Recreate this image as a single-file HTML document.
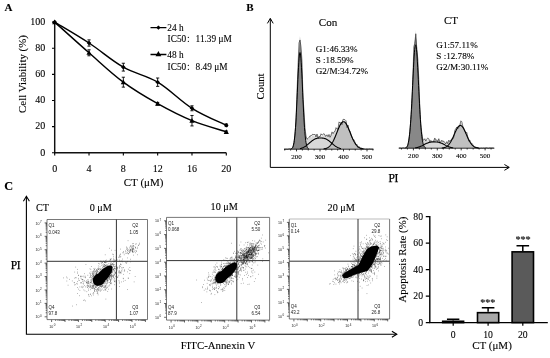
<!DOCTYPE html>
<html><head><meta charset="utf-8"><title>Figure</title>
<style>html,body{margin:0;padding:0;background:#fff;}svg{display:block;}</style>
</head><body>
<svg width="550" height="358" viewBox="0 0 550 358">
<rect width="550" height="358" fill="#fff"/>
<text x="4.6" y="10.8" style="font-family:'Liberation Serif',serif;stroke:#000;stroke-width:0.1px;font-weight:bold;font-size:11px">A</text>
<path d="M54.7 21.5V152.7H226.3" fill="none" stroke="#111" stroke-width="1.45"/>
<path d="M52 152.7H54.7M52 126.58H54.7M52 100.46H54.7M52 74.34H54.7M52 48.22H54.7M52 22.1H54.7M54.7 152.7V155.6M89.02 152.7V155.6M123.34 152.7V155.6M157.66 152.7V155.6M191.98 152.7V155.6M226.3 152.7V155.6" stroke="#000" stroke-width="1.1"/>
<text x="45.3" y="155.6" text-anchor="end" style="font-family:'Liberation Serif',serif;stroke:#000;stroke-width:0.1px;font-size:10px">0</text>
<text x="45.3" y="129.48" text-anchor="end" style="font-family:'Liberation Serif',serif;stroke:#000;stroke-width:0.1px;font-size:10px">20</text>
<text x="45.3" y="103.36" text-anchor="end" style="font-family:'Liberation Serif',serif;stroke:#000;stroke-width:0.1px;font-size:10px">40</text>
<text x="45.3" y="77.24" text-anchor="end" style="font-family:'Liberation Serif',serif;stroke:#000;stroke-width:0.1px;font-size:10px">60</text>
<text x="45.3" y="51.12" text-anchor="end" style="font-family:'Liberation Serif',serif;stroke:#000;stroke-width:0.1px;font-size:10px">80</text>
<text x="45.3" y="25" text-anchor="end" style="font-family:'Liberation Serif',serif;stroke:#000;stroke-width:0.1px;font-size:10px">100</text>
<text x="54.7" y="172" text-anchor="middle" style="font-family:'Liberation Serif',serif;stroke:#000;stroke-width:0.1px;font-size:10px">0</text>
<text x="89.02" y="172" text-anchor="middle" style="font-family:'Liberation Serif',serif;stroke:#000;stroke-width:0.1px;font-size:10px">4</text>
<text x="123.34" y="172" text-anchor="middle" style="font-family:'Liberation Serif',serif;stroke:#000;stroke-width:0.1px;font-size:10px">8</text>
<text x="157.66" y="172" text-anchor="middle" style="font-family:'Liberation Serif',serif;stroke:#000;stroke-width:0.1px;font-size:10px">12</text>
<text x="191.98" y="172" text-anchor="middle" style="font-family:'Liberation Serif',serif;stroke:#000;stroke-width:0.1px;font-size:10px">16</text>
<text x="226.3" y="172" text-anchor="middle" style="font-family:'Liberation Serif',serif;stroke:#000;stroke-width:0.1px;font-size:10px">20</text>
<text x="143.6" y="185.9" text-anchor="middle" style="font-family:'Liberation Serif',serif;stroke:#000;stroke-width:0.1px;font-size:11px">CT (μM)</text>
<text transform="translate(26.1 74) rotate(-90)" text-anchor="middle" style="font-family:'Liberation Serif',serif;stroke:#000;stroke-width:0.1px;font-size:10.9px">Cell Viability (%)</text>
<path d="M54.7 22.1C60.88 25.86 76.66 34.89 89.02 43C101.38 51.11 110.98 60.1 123.34 67.16C135.7 74.21 145.3 74.77 157.66 82.18C170.02 89.58 179.62 100.54 191.98 108.3C204.34 116.05 220.12 122.22 226.3 125.27" fill="none" stroke="#000" stroke-width="1.45"/>
<path d="M54.7 22.1C60.88 27.62 76.66 41.98 89.02 52.79C101.38 63.6 110.98 73.01 123.34 82.18C135.7 91.34 145.3 96.79 157.66 103.72C170.02 110.66 179.62 115.65 191.98 120.7C204.34 125.76 220.12 129.81 226.3 131.8" fill="none" stroke="#000" stroke-width="1.45"/>
<path d="M89.02 39.86V46.13M87.42 39.86H90.62M87.42 46.13H90.62M123.34 63.24V71.07M121.74 63.24H124.94M121.74 71.07H124.94M157.66 78V86.36M156.06 78H159.26M156.06 86.36H159.26M191.98 105.81V110.78M190.38 105.81H193.58M190.38 110.78H193.58M226.3 123.97V126.58M224.7 123.97H227.9M224.7 126.58H227.9M89.02 49.79V55.79M87.42 49.79H90.62M87.42 55.79H90.62M123.34 77.21V87.14M121.74 77.21H124.94M121.74 87.14H124.94M157.66 102.42V105.03M156.06 102.42H159.26M156.06 105.03H159.26M191.98 115.48V125.93M190.38 115.48H193.58M190.38 125.93H193.58M226.3 131.02V132.59M224.7 131.02H227.9M224.7 132.59H227.9" stroke="#000" stroke-width="0.9" fill="none"/>
<path d="M54.7 19.8L57 22.1L54.7 24.4L52.4 22.1ZM89.02 40.7L91.32 43L89.02 45.3L86.72 43ZM123.34 64.86L125.64 67.16L123.34 69.46L121.04 67.16ZM157.66 79.88L159.96 82.18L157.66 84.48L155.36 82.18ZM191.98 106L194.28 108.3L191.98 110.6L189.68 108.3ZM226.3 122.97L228.6 125.27L226.3 127.57L224 125.27Z"/>
<path d="M54.7 19.5L57.3 24.18L52.1 24.18ZM89.02 50.19L91.62 54.87L86.42 54.87ZM123.34 79.58L125.94 84.26L120.74 84.26ZM157.66 101.12L160.26 105.8L155.06 105.8ZM191.98 118.1L194.58 122.78L189.38 122.78ZM226.3 129.2L228.9 133.88L223.7 133.88Z"/>
<path d="M150.5 27.6H166.4M150.5 54.5H166.4" stroke="#000" stroke-width="1.3"/>
<path d="M158.4 25.4L160.6 27.6L158.4 29.8L156.2 27.6ZM158.4 51.1L161.3 56.32L155.5 56.32Z"/>
<text x="167.3" y="30.9" style="font-family:'Liberation Serif',serif;stroke:#000;stroke-width:0.1px;font-size:9.3px">24 h</text>
<text x="167.3" y="58.4" style="font-family:'Liberation Serif',serif;stroke:#000;stroke-width:0.1px;font-size:9.3px">48 h</text>
<text x="167.6" y="42.4" style="font-family:'Liberation Serif',serif;stroke:#000;stroke-width:0.1px;font-size:9.3px">IC50<tspan style="font-family:'Noto Serif CJK SC',serif">：</tspan><tspan x="195.6">11.39 μM</tspan></text>
<text x="167.6" y="69.8" style="font-family:'Liberation Serif',serif;stroke:#000;stroke-width:0.1px;font-size:9.3px">IC50<tspan style="font-family:'Noto Serif CJK SC',serif">：</tspan><tspan x="195.6">8.49 μM</tspan></text>
<text x="246.3" y="10.6" style="font-family:'Liberation Serif',serif;stroke:#000;stroke-width:0.1px;font-weight:bold;font-size:11px">B</text>
<path d="M270.3 18.6V167.4H509" fill="none" stroke="#000" stroke-width="1"/>
<path d="M267.4 23.4L270.3 18.4L273.2 23.4M504.4 164.5L509.3 167.4L504.4 170.3" fill="none" stroke="#000" stroke-width="1"/>
<text transform="translate(263.8 86.5) rotate(-90)" text-anchor="middle" style="font-family:'Liberation Serif',serif;stroke:#000;stroke-width:0.1px;font-size:10.6px">Count</text>
<text x="393.2" y="181.7" text-anchor="middle" style="font-family:'Liberation Serif',serif;stroke:#000;stroke-width:0.1px;font-size:11.5px;letter-spacing:-0.4px;stroke:#000;stroke-width:0.25px">PI</text>
<path d="M284 149.2L284 149.2L284.5 149.14L285 149.2L285.5 149.11L286 149.09L286.5 149.2L287 149.2L287.5 148.98L288 149.2L288.5 149.2L289 148.89L289.5 149.17L290 148.95L290.5 149.12L291 148.96L291.5 149.09L292 148.56L292.5 147.31L293 147.17L293.5 145.28L294 143.18L294.5 141.44L295 134.54L295.5 128.37L296 121.02L296.5 112.13L297 94.56L297.5 83.9L298 68.07L298.5 53.63L299 45.04L299.5 35.64L300 39.64L300.5 36.56L301 47.09L301.5 51.28L302 64.21L302.5 84.24L303 96.26L303.5 107.07L304 112.93L304.5 123.61L305 128.84L305.5 134.2L306 136.23L306.5 138.19L307 139.09L307.5 138.68L308 138.64L308.5 137.47L309 137.81L309.5 136.73L310 136.61L310.5 135.89L311 136.59L311.5 137.93L312 135.56L312.5 135.07L313 135.12L313.5 136.06L314 135.52L314.5 137.05L315 135.03L315.5 135.81L316 136.71L316.5 137.39L317 134.86L317.5 134.42L318 137.29L318.5 135.01L319 136.25L319.5 137.07L320 136.6L320.5 135.07L321 134.72L321.5 137.34L322 135.49L322.5 137.29L323 135.1L323.5 136.3L324 134.5L324.5 134.13L325 135.62L325.5 133.98L326 136.16L326.5 136.86L327 135.11L327.5 136.9L328 136.3L328.5 135.54L329 134.8L329.5 136.19L330 136.46L330.5 133.61L331 135.29L331.5 132.95L332 132.93L332.5 134.4L333 133.81L333.5 133.24L334 132.37L334.5 132.04L335 131.61L335.5 130.76L336 128.87L336.5 129.73L337 129.21L337.5 127.23L338 128.27L338.5 127.13L339 123.41L339.5 124.44L340 123.48L340.5 125.09L341 122.6L341.5 121.26L342 123.36L342.5 120.26L343 119.97L343.5 122.58L344 120.03L344.5 121.04L345 120.46L345.5 122.52L346 121.61L346.5 122.32L347 126.37L347.5 127.2L348 125.76L348.5 125.83L349 129.89L349.5 130.38L350 131.19L350.5 133.46L351 134.59L351.5 136.01L352 137.05L352.5 137.54L353 139.54L353.5 140.37L354 140.3L354.5 143.2L355 142.65L355.5 143.04L356 144.79L356.5 145.62L357 144.87L357.5 146.65L358 147.2L358.5 147.06L359 146.85L359.5 148.39L360 148.19L360.5 148.38L361 148.14L361.5 148.51L362 148.41L362.5 148.9L363 148.89L363.5 148.79L364 148.72L364.5 149.01L365 149.18L365.5 149.2L366 149.06L366.5 149.2L367 148.94L367.5 148.94L368 149.2L368.5 149.2L369 148.98L369.5 149.07L370 148.99L370.5 149.2L371 149.2L371.5 149.2L372 149L372.5 149.2L373 149.2L373.5 149.2L373.7 149.2Z" fill="#d8d8d8"/>
<path d="M322.5 149.2L322.5 149.03L323 148.98L323.5 148.92L324 148.85L324.5 148.76L325 148.66L325.5 148.53L326 148.38L326.5 148.2L327 147.99L327.5 147.74L328 147.46L328.5 147.12L329 146.74L329.5 146.3L330 145.81L330.5 145.25L331 144.62L331.5 143.93L332 143.17L332.5 142.34L333 141.44L333.5 140.47L334 139.44L334.5 138.35L335 137.2L335.5 136.01L336 134.78L336.5 133.53L337 132.27L337.5 131.01L338 129.77L338.5 128.56L339 127.4L339.5 126.31L340 125.31L340.5 124.4L341 123.6L341.5 122.93L342 122.4L342.5 122.01L343 121.78L343.5 121.7L344 121.78L344.5 122.01L345 122.4L345.5 122.93L346 123.6L346.5 124.4L347 125.31L347.5 126.31L348 127.4L348.5 128.56L349 129.77L349.5 131.01L350 132.27L350.5 133.53L351 134.78L351.5 136.01L352 137.2L352.5 138.35L353 139.44L353.5 140.47L354 141.44L354.5 142.34L355 143.17L355.5 143.93L356 144.62L356.5 145.25L357 145.81L357.5 146.3L358 146.74L358.5 147.12L359 147.46L359.5 147.74L360 147.99L360.5 148.2L361 148.38L361.5 148.53L362 148.66L362.5 148.76L363 148.85L363.5 148.92L364 148.98L364.5 149.03L364.5 149.2Z" fill="#c0c0c0"/>
<path d="M291.75 149.2L291.75 148.57L292 148.35L292.25 148.06L292.5 147.69L292.75 147.22L293 146.62L293.25 145.87L293.5 144.95L293.75 143.82L294 142.45L294.25 140.82L294.5 138.88L294.75 136.61L295 133.98L295.25 130.98L295.5 127.58L295.75 123.78L296 119.59L296.25 115.03L296.5 109.91L296.75 103.98L297 97.7L297.25 91.14L297.5 84.44L297.75 77.7L298 71.09L298.25 64.74L298.5 58.83L298.75 53.5L299 48.91L299.25 45.19L299.5 42.45L299.75 40.77L300 40.2L300.25 40.77L300.5 42.45L300.75 45.19L301 48.91L301.25 53.5L301.5 58.83L301.75 64.74L302 71.09L302.25 77.7L302.5 84.44L302.75 91.14L303 97.7L303.25 103.98L303.5 109.91L303.75 115.03L304 119.59L304.25 123.78L304.5 127.58L304.75 130.98L305 133.98L305.25 136.61L305.5 138.88L305.75 140.82L306 142.45L306.25 143.82L306.5 144.95L306.75 145.87L307 146.62L307.25 147.22L307.5 147.69L307.75 148.06L308 148.35L308.25 148.57L308.25 149.2Z" fill="#888"/>
<path d="M284 149.2L285 149.2L286 149.02L287 149.2L288 149.2L289 148.68L290 148.8L291 148.88L292 148.49L293 147.05L294 142.79L295 133.84L296 121.44L297 92.57L298 66.27L299 42.86L300 39.97L301 47.01L302 61.33L303 97.71L304 111.1L305 128.35L306 136.07L307 139.25L308 138.35L309 137.32L310 135.76L311 136.11L312 134.68L313 134.13L314 134.93L315 134.19L316 137.02L317 133.97L318 138.03L319 136.3L320 136.9L321 133.78L322 135.11L323 134.49L324 133.54L325 135.47L326 136.43L327 134.76L328 136.81L329 134.42L330 137.32L331 135.55L332 131.89L333 133.75L334 131.89L335 131.31L336 127.62L337 129.22L338 128.8L339 121.88L340 123.15L341 122.66L342 124.63L343 119.35L344 119.43L345 119.71L346 120.8L347 127.55L348 125.1L349 130.37L350 130.81L351 134.75L352 137.18L353 139.8L354 139.69L355 142.43L356 144.98L357 144.31L358 147.56L359 146.48L360 148.34L361 147.99L362 148.26L363 148.93L364 148.56L365 149.2L366 149.03L367 148.81L368 149.2L369 148.84L370 148.85L371 149.2L372 148.87L373 149.2" fill="none" stroke="#222" stroke-width="0.6"/>
<path d="M291.3 148.84L291.6 148.68L291.9 148.45L292.2 148.13L292.5 147.69L292.8 147.11L293.1 146.34L293.4 145.34L293.7 144.07L294 142.45L294.3 140.45L294.6 138.01L294.9 135.08L295.2 131.61L295.5 127.58L295.8 122.97L296.1 117.81L296.4 112.12L296.7 105.99L297 99.5L297.3 92.8L297.6 86.05L297.9 79.41L298.2 73.11L298.5 67.33L298.8 62.27L299.1 58.12L299.4 55.04L299.7 53.14L300 52.5L300.3 53.14L300.6 55.04L300.9 58.12L301.2 62.27L301.5 67.33L301.8 73.11L302.1 79.41L302.4 86.05L302.7 92.8L303 99.5L303.3 105.99L303.6 112.12L303.9 117.81L304.2 122.97L304.5 127.58L304.8 131.61L305.1 135.08L305.4 138.01L305.7 140.45L306 142.45L306.3 144.07L306.6 145.34L306.9 146.34L307.2 147.11L307.5 147.69L307.8 148.13L308.1 148.45L308.4 148.68L308.7 148.84" fill="none" stroke="#000" stroke-width="1"/>
<path d="M300 148.62L300.5 148.5L301 148.37L301.5 148.22L302 148.04L302.5 147.85L303 147.63L303.5 147.39L304 147.12L304.5 146.84L305 146.53L305.5 146.19L306 145.84L306.5 145.47L307 145.08L307.5 144.68L308 144.26L308.5 143.84L309 143.41L309.5 142.97L310 142.54L310.5 142.12L311 141.7L311.5 141.3L312 140.91L312.5 140.53L313 140.18L313.5 139.86L314 139.56L314.5 139.28L315 139.03L315.5 138.82L316 138.63L316.5 138.46L317 138.33L317.5 138.22L318 138.14L318.5 138.08L319 138.04L319.5 138.01L320 138L320.5 138L321 138L321.5 138.01L322 138.04L322.5 138.08L323 138.14L323.5 138.22L324 138.33L324.5 138.46L325 138.63L325.5 138.82L326 139.03L326.5 139.28L327 139.56L327.5 139.86L328 140.18L328.5 140.53L329 140.91L329.5 141.3L330 141.7L330.5 142.12L331 142.54L331.5 142.97L332 143.41L332.5 143.84L333 144.26L333.5 144.68L334 145.08L334.5 145.47L335 145.84L335.5 146.19L336 146.53L336.5 146.84L337 147.12L337.5 147.39L338 147.63L338.5 147.85L339 148.04L339.5 148.22L340 148.37L340.5 148.5L341 148.62" fill="none" stroke="#000" stroke-width="1.1"/>
<path d="M323.5 148.92L324 148.85L324.5 148.76L325 148.66L325.5 148.53L326 148.38L326.5 148.2L327 147.99L327.5 147.74L328 147.46L328.5 147.12L329 146.74L329.5 146.3L330 145.81L330.5 145.25L331 144.62L331.5 143.93L332 143.17L332.5 142.34L333 141.44L333.5 140.47L334 139.44L334.5 138.35L335 137.2L335.5 136.01L336 134.78L336.5 133.53L337 132.27L337.5 131.01L338 129.77L338.5 128.56L339 127.4L339.5 126.31L340 125.31L340.5 124.4L341 123.6L341.5 122.93L342 122.4L342.5 122.01L343 121.78L343.5 121.7L344 121.78L344.5 122.01L345 122.4L345.5 122.93L346 123.6L346.5 124.4L347 125.31L347.5 126.31L348 127.4L348.5 128.56L349 129.77L349.5 131.01L350 132.27L350.5 133.53L351 134.78L351.5 136.01L352 137.2L352.5 138.35L353 139.44L353.5 140.47L354 141.44L354.5 142.34L355 143.17L355.5 143.93L356 144.62L356.5 145.25L357 145.81L357.5 146.3L358 146.74L358.5 147.12L359 147.46L359.5 147.74L360 147.99L360.5 148.2L361 148.38L361.5 148.53L362 148.66L362.5 148.76L363 148.85L363.5 148.92" fill="none" stroke="#000" stroke-width="1.1"/>
<path d="M284 149.2H373.7M284.75 149.2V150.5M290.62 149.2V150.5M296.5 149.2V151.4M302.38 149.2V150.5M308.25 149.2V150.5M314.12 149.2V150.5M320 149.2V151.4M325.88 149.2V150.5M331.75 149.2V150.5M337.62 149.2V150.5M343.5 149.2V151.4M349.38 149.2V150.5M355.25 149.2V150.5M361.12 149.2V150.5M367 149.2V151.4M372.88 149.2V150.5" stroke="#000" stroke-width="0.8" fill="none"/>
<text x="296.5" y="159.4" text-anchor="middle" style="font-family:'Liberation Serif',serif;stroke:#000;stroke-width:0.1px;font-size:7.1px">200</text>
<text x="320" y="159.4" text-anchor="middle" style="font-family:'Liberation Serif',serif;stroke:#000;stroke-width:0.1px;font-size:7.1px">300</text>
<text x="343.5" y="159.4" text-anchor="middle" style="font-family:'Liberation Serif',serif;stroke:#000;stroke-width:0.1px;font-size:7.1px">400</text>
<text x="367" y="159.4" text-anchor="middle" style="font-family:'Liberation Serif',serif;stroke:#000;stroke-width:0.1px;font-size:7.1px">500</text>
<text x="328" y="25.6" text-anchor="middle" style="font-family:'Liberation Serif',serif;stroke:#000;stroke-width:0.1px;font-size:11.1px">Con</text>
<text x="315.7" y="51.6" style="font-family:'Liberation Serif',serif;stroke:#000;stroke-width:0.1px;font-size:9.15px">G1:46.33%</text>
<text x="315.7" y="62.6" style="font-family:'Liberation Serif',serif;stroke:#000;stroke-width:0.1px;font-size:9.15px">S :18.59%</text>
<text x="315.7" y="73.6" style="font-family:'Liberation Serif',serif;stroke:#000;stroke-width:0.1px;font-size:9.15px">G2/M:34.72%</text>
<path d="M398.8 148.2L398.8 148.1L399.3 148.03L399.8 148L400.3 147.92L400.8 148.03L401.3 147.93L401.8 148.2L402.3 148.18L402.8 147.91L403.3 148.07L403.8 147.92L404.3 148.2L404.8 148.1L405.3 148.14L405.8 147.84L406.3 147.58L406.8 147.48L407.3 147.05L407.8 145.9L408.3 142.88L408.8 140.88L409.3 139.3L409.8 132.94L410.3 129.54L410.8 120.35L411.3 114.09L411.8 105.05L412.3 87.8L412.8 81.16L413.3 69.59L413.8 50.63L414.3 42.16L414.8 42.2L415.3 29.83L415.8 34.63L416.3 35.71L416.8 47.35L417.3 47.35L417.8 60.59L418.3 69.57L418.8 82.16L419.3 97.7L419.8 107.14L420.3 116.67L420.8 123.69L421.3 129.46L421.8 132.74L422.3 134.82L422.8 138.76L423.3 138.17L423.8 139.98L424.3 140.54L424.8 139.41L425.3 140.41L425.8 140.86L426.3 140.38L426.8 139.73L427.3 141.41L427.8 138.89L428.3 141.41L428.8 139.42L429.3 139.13L429.8 141.35L430.3 139.26L430.8 140.39L431.3 139.81L431.8 141.35L432.3 141.25L432.8 140.89L433.3 138.79L433.8 140.84L434.3 139.33L434.8 138.86L435.3 138.83L435.8 140.45L436.3 140.43L436.8 139.98L437.3 139.32L437.8 141.14L438.3 139.45L438.8 139.36L439.3 139.25L439.8 141.53L440.3 139.19L440.8 141.58L441.3 141.04L441.8 140.46L442.3 139.82L442.8 141.51L443.3 140.19L443.8 141.37L444.3 142.17L444.8 142.35L445.3 142.89L445.8 143.3L446.3 143.26L446.8 142.01L447.3 141.3L447.8 143.33L448.3 143.51L448.8 140.99L449.3 141.83L449.8 141.76L450.3 141.7L450.8 140.16L451.3 138.8L451.8 139L452.3 138.19L452.8 138.3L453.3 134.62L453.8 136.29L454.3 133.67L454.8 131.33L455.3 132.65L455.8 129.37L456.3 127.45L456.8 127.63L457.3 126.08L457.8 127.98L458.3 125.99L458.8 126.62L459.3 123.33L459.8 125.38L460.3 124.64L460.8 122.43L461.3 123.3L461.8 123.2L462.3 125.91L462.8 126.45L463.3 126.32L463.8 128.22L464.3 129.93L464.8 130.59L465.3 132.62L465.8 132.97L466.3 132.12L466.8 133.46L467.3 135.72L467.8 137.26L468.3 138.82L468.8 140.55L469.3 141.01L469.8 140.6L470.3 141.26L470.8 143.3L471.3 143L471.8 143.68L472.3 144.44L472.8 145.02L473.3 145.26L473.8 146.48L474.3 146.1L474.8 147.25L475.3 147.06L475.8 147.18L476.3 147.39L476.8 147.74L477.3 147.49L477.8 147.75L478.3 147.86L478.8 148.2L479.3 147.98L479.8 148.18L480.3 147.98L480.8 148.12L481.3 147.94L481.8 148.04L482.3 147.97L482.8 148.2L483.3 148.07L483.8 148.02L484.3 147.97L484.8 148.2L485.3 147.97L485.8 147.96L486.3 148.06L486.8 147.9L487.3 147.91L487.8 148.15L488.3 148.15L488.8 148.2L489.3 147.98L489.8 147.92L490.3 148.18L490.8 148.06L491.3 148.04L491.8 148.04L492.3 148.2L492.8 148.01L493.3 148.12L493.8 148.07L494.3 148.2L494.4 148.2Z" fill="#d8d8d8"/>
<path d="M441.3 148.2L441.3 148.05L441.8 148L442.3 147.95L442.8 147.88L443.3 147.79L443.8 147.68L444.3 147.55L444.8 147.39L445.3 147.2L445.8 146.97L446.3 146.7L446.8 146.39L447.3 146.02L447.8 145.6L448.3 145.11L448.8 144.57L449.3 143.95L449.8 143.27L450.3 142.51L450.8 141.69L451.3 140.8L451.8 139.84L452.3 138.83L452.8 137.76L453.3 136.66L453.8 135.52L454.3 134.37L454.8 133.22L455.3 132.09L455.8 130.99L456.3 129.94L456.8 128.97L457.3 128.08L457.8 127.3L458.3 126.63L458.8 126.1L459.3 125.71L459.8 125.48L460.3 125.4L460.8 125.48L461.3 125.71L461.8 126.1L462.3 126.63L462.8 127.3L463.3 128.08L463.8 128.97L464.3 129.94L464.8 130.99L465.3 132.09L465.8 133.22L466.3 134.37L466.8 135.52L467.3 136.66L467.8 137.76L468.3 138.83L468.8 139.84L469.3 140.8L469.8 141.69L470.3 142.51L470.8 143.27L471.3 143.95L471.8 144.57L472.3 145.11L472.8 145.6L473.3 146.02L473.8 146.39L474.3 146.7L474.8 146.97L475.3 147.2L475.8 147.39L476.3 147.55L476.8 147.68L477.3 147.79L477.8 147.88L478.3 147.95L478.8 148L479.3 148.05L479.3 148.2Z" fill="#c0c0c0"/>
<path d="M406.1 148.2L406.1 147.51L406.35 147.31L406.6 147.05L406.85 146.73L407.1 146.33L407.35 145.84L407.6 145.25L407.85 144.52L408.1 143.66L408.35 142.62L408.6 141.4L408.85 139.97L409.1 138.31L409.35 136.4L409.6 134.21L409.85 131.73L410.1 128.94L410.35 125.84L410.6 122.42L410.85 118.68L411.1 114.63L411.35 110.29L411.6 105.69L411.85 100.86L412.1 95.75L412.35 90L412.6 84.13L412.85 78.2L413.1 72.31L413.35 66.55L413.6 61.04L413.85 55.86L414.1 51.12L414.35 46.92L414.6 43.36L414.85 40.49L415.1 38.4L415.35 37.13L415.6 36.7L415.85 37.13L416.1 38.4L416.35 40.49L416.6 43.36L416.85 46.92L417.1 51.12L417.35 55.86L417.6 61.04L417.85 66.55L418.1 72.31L418.35 78.2L418.6 84.13L418.85 90L419.1 95.75L419.35 100.86L419.6 105.69L419.85 110.29L420.1 114.63L420.35 118.68L420.6 122.42L420.85 125.84L421.1 128.94L421.35 131.73L421.6 134.21L421.85 136.4L422.1 138.31L422.35 139.97L422.6 141.4L422.85 142.62L423.1 143.66L423.35 144.52L423.6 145.25L423.85 145.84L424.1 146.33L424.35 146.73L424.6 147.05L424.85 147.31L425.1 147.51L425.1 148.2Z" fill="#888"/>
<path d="M398.8 148.03L399.8 147.87L400.8 147.92L401.8 148.2L402.8 147.73L403.8 147.75L404.8 148.08L405.8 147.8L406.8 147.64L407.8 146.13L408.8 140.31L409.8 132.14L410.8 119.79L411.8 106.89L412.8 82.45L413.8 46.69L414.8 43.4L415.8 33.74L416.8 49.18L417.8 58.86L418.8 79.72L419.8 107.43L420.8 124.54L421.8 133.05L422.8 139.61L423.8 140.16L424.8 138.73L425.8 141.07L426.8 139.24L427.8 137.92L428.8 138.85L429.8 142.1L430.8 140.51L431.8 142.12L432.8 141.34L433.8 141.27L434.8 137.97L435.8 140.61L436.8 139.81L437.8 141.73L438.8 138.71L439.8 142.25L440.8 142.19L441.8 140.16L442.8 141.68L443.8 141.18L444.8 142.55L445.8 143.89L446.8 141.6L447.8 143.78L448.8 140.07L449.8 141.81L450.8 139.87L451.8 138.96L452.8 139.06L453.8 137.15L454.8 130.41L455.8 128.65L456.8 127.13L457.8 128.86L458.8 127.4L459.8 125.78L460.8 120.85L461.8 121.71L462.8 126.31L463.8 128.11L464.8 130.66L465.8 133.1L466.8 132.35L467.8 137.13L468.8 141.18L469.8 140L470.8 143.42L471.8 143.16L472.8 144.68L473.8 146.58L474.8 147.46L475.8 147.06L476.8 147.79L477.8 147.67L478.8 148.2L479.8 148.2L480.8 148.11L481.8 147.97L482.8 148.2L483.8 147.91L484.8 148.2L485.8 147.8L486.8 147.7L487.8 148.12L488.8 148.2L489.8 147.74L490.8 147.96L491.8 147.93L492.8 147.88L493.8 147.99" fill="none" stroke="#222" stroke-width="0.6"/>
<path d="M405.4 147.88L405.7 147.75L406 147.58L406.3 147.35L406.6 147.05L406.9 146.66L407.2 146.15L407.5 145.5L407.8 144.68L408.1 143.66L408.4 142.4L408.7 140.86L409 139.01L409.3 136.8L409.6 134.21L409.9 131.19L410.2 127.74L410.5 123.82L410.8 119.45L411.1 114.63L411.4 109.39L411.7 103.78L412 97.87L412.3 91.74L412.6 85.48L412.9 79.23L413.2 73.12L413.5 67.27L413.8 61.83L414.1 56.95L414.4 52.75L414.7 49.35L415 46.85L415.3 45.32L415.6 44.8L415.9 45.32L416.2 46.85L416.5 49.35L416.8 52.75L417.1 56.95L417.4 61.83L417.7 67.27L418 73.12L418.3 79.23L418.6 85.48L418.9 91.74L419.2 97.87L419.5 103.78L419.8 109.39L420.1 114.63L420.4 119.45L420.7 123.82L421 127.74L421.3 131.19L421.6 134.21L421.9 136.8L422.2 139.01L422.5 140.86L422.8 142.4L423.1 143.66L423.4 144.68L423.7 145.5L424 146.15L424.3 146.66L424.6 147.05L424.9 147.35L425.2 147.58L425.5 147.75L425.8 147.88" fill="none" stroke="#000" stroke-width="1"/>
<path d="M415.2 147.88L415.7 147.81L416.2 147.72L416.7 147.63L417.2 147.52L417.7 147.4L418.2 147.26L418.7 147.1L419.2 146.94L419.7 146.75L420.2 146.55L420.7 146.34L421.2 146.12L421.7 145.88L422.2 145.64L422.7 145.38L423.2 145.12L423.7 144.86L424.2 144.6L424.7 144.34L425.2 144.08L425.7 143.83L426.2 143.59L426.7 143.37L427.2 143.15L427.7 142.95L428.2 142.77L428.7 142.6L429.2 142.46L429.7 142.33L430.2 142.22L430.7 142.13L431.2 142.05L431.7 142L432.2 141.95L432.7 141.93L433.2 141.91L433.7 141.9L434.2 141.9L434.7 141.9L435.2 141.91L435.7 141.93L436.2 141.95L436.7 142L437.2 142.05L437.7 142.13L438.2 142.22L438.7 142.33L439.2 142.46L439.7 142.6L440.2 142.77L440.7 142.95L441.2 143.15L441.7 143.37L442.2 143.59L442.7 143.83L443.2 144.08L443.7 144.34L444.2 144.6L444.7 144.86L445.2 145.12L445.7 145.38L446.2 145.64L446.7 145.88L447.2 146.12L447.7 146.34L448.2 146.55L448.7 146.75L449.2 146.94L449.7 147.1L450.2 147.26L450.7 147.4L451.2 147.52L451.7 147.63L452.2 147.72L452.7 147.81L453.2 147.88" fill="none" stroke="#000" stroke-width="1.1"/>
<path d="M441.8 148L442.3 147.95L442.8 147.88L443.3 147.79L443.8 147.68L444.3 147.55L444.8 147.39L445.3 147.2L445.8 146.97L446.3 146.7L446.8 146.39L447.3 146.02L447.8 145.6L448.3 145.11L448.8 144.57L449.3 143.95L449.8 143.27L450.3 142.51L450.8 141.69L451.3 140.8L451.8 139.84L452.3 138.83L452.8 137.76L453.3 136.66L453.8 135.52L454.3 134.37L454.8 133.22L455.3 132.09L455.8 130.99L456.3 129.94L456.8 128.97L457.3 128.08L457.8 127.3L458.3 126.63L458.8 126.1L459.3 125.71L459.8 125.48L460.3 125.4L460.8 125.48L461.3 125.71L461.8 126.1L462.3 126.63L462.8 127.3L463.3 128.08L463.8 128.97L464.3 129.94L464.8 130.99L465.3 132.09L465.8 133.22L466.3 134.37L466.8 135.52L467.3 136.66L467.8 137.76L468.3 138.83L468.8 139.84L469.3 140.8L469.8 141.69L470.3 142.51L470.8 143.27L471.3 143.95L471.8 144.57L472.3 145.11L472.8 145.6L473.3 146.02L473.8 146.39L474.3 146.7L474.8 146.97L475.3 147.2L475.8 147.39L476.3 147.55L476.8 147.68L477.3 147.79L477.8 147.88L478.3 147.95L478.8 148" fill="none" stroke="#000" stroke-width="1.1"/>
<path d="M398.8 148.2H494.4M401.45 148.2V149.5M407.42 148.2V149.5M413.4 148.2V150.4M419.38 148.2V149.5M425.35 148.2V149.5M431.32 148.2V149.5M437.3 148.2V150.4M443.27 148.2V149.5M449.25 148.2V149.5M455.22 148.2V149.5M461.2 148.2V150.4M467.17 148.2V149.5M473.15 148.2V149.5M479.12 148.2V149.5M485.1 148.2V150.4M491.07 148.2V149.5" stroke="#000" stroke-width="0.8" fill="none"/>
<text x="413.4" y="158.4" text-anchor="middle" style="font-family:'Liberation Serif',serif;stroke:#000;stroke-width:0.1px;font-size:7.1px">200</text>
<text x="437.3" y="158.4" text-anchor="middle" style="font-family:'Liberation Serif',serif;stroke:#000;stroke-width:0.1px;font-size:7.1px">300</text>
<text x="461.2" y="158.4" text-anchor="middle" style="font-family:'Liberation Serif',serif;stroke:#000;stroke-width:0.1px;font-size:7.1px">400</text>
<text x="485.1" y="158.4" text-anchor="middle" style="font-family:'Liberation Serif',serif;stroke:#000;stroke-width:0.1px;font-size:7.1px">500</text>
<text x="451" y="23.6" text-anchor="middle" style="font-family:'Liberation Serif',serif;stroke:#000;stroke-width:0.1px;font-size:11.1px">CT</text>
<text x="436.3" y="48.3" style="font-family:'Liberation Serif',serif;stroke:#000;stroke-width:0.1px;font-size:9.15px">G1:57.11%</text>
<text x="436.3" y="59.3" style="font-family:'Liberation Serif',serif;stroke:#000;stroke-width:0.1px;font-size:9.15px">S :12.78%</text>
<text x="436.3" y="70.3" style="font-family:'Liberation Serif',serif;stroke:#000;stroke-width:0.1px;font-size:9.15px">G2/M:30.11%</text>
<text x="4.3" y="190.4" style="font-family:'Liberation Serif',serif;stroke:#000;stroke-width:0.1px;font-weight:bold;font-size:12.3px">C</text>
<path d="M26.4 196.8V334.3H396.4" fill="none" stroke="#000" stroke-width="1.1"/>
<path d="M23.4 201.2L26.4 196.3L29.4 201.2M391.9 331.3L396.8 334.3L391.9 337.3" fill="none" stroke="#000" stroke-width="1.1"/>
<text x="15.4" y="268.6" text-anchor="middle" style="font-family:'Liberation Serif',serif;stroke:#000;stroke-width:0.1px;font-size:11.5px;letter-spacing:-0.4px;stroke:#000;stroke-width:0.25px">PI</text>
<text x="36" y="210.9" style="font-family:'Liberation Serif',serif;stroke:#000;stroke-width:0.1px;font-size:10.2px">CT</text>
<text x="218" y="348.9" text-anchor="middle" style="font-family:'Liberation Serif',serif;stroke:#000;stroke-width:0.1px;font-size:10.8px">FITC-Annexin V</text>
<path d="M44.6 316.8H47M45.7 312.76H47M45.7 310.4H47M45.7 308.72H47M45.7 307.42H47M45.7 306.36H47M45.7 305.46H47M45.7 304.69H47M45.7 304H47M44.6 303.39H47M45.7 299.35H47M45.7 296.99H47M45.7 295.31H47M45.7 294.01H47M45.7 292.95H47M45.7 292.05H47M45.7 291.27H47M45.7 290.59H47M44.6 289.97H47M45.7 285.93H47M45.7 283.57H47M45.7 281.9H47M45.7 280.6H47M45.7 279.53H47M45.7 278.64H47M45.7 277.86H47M45.7 277.17H47M44.6 276.56H47M45.7 272.52H47M45.7 270.16H47M45.7 268.48H47M45.7 267.18H47M45.7 266.12H47M45.7 265.22H47M45.7 264.44H47M45.7 263.76H47M44.6 263.14H47M45.7 259.1H47M45.7 256.74H47M45.7 255.07H47M45.7 253.77H47M45.7 252.7H47M45.7 251.81H47M45.7 251.03H47M45.7 250.34H47M44.6 249.73H47M45.7 245.69H47M45.7 243.33H47M45.7 241.65H47M45.7 240.35H47M45.7 239.29H47M45.7 238.39H47M45.7 237.61H47M45.7 236.93H47M44.6 236.31H47M45.7 232.28H47M45.7 229.91H47M45.7 228.24H47M45.7 226.94H47M45.7 225.88H47M45.7 224.98H47M45.7 224.2H47M45.7 223.51H47M44.6 222.9H47M51.6 319.6V322M55.63 319.6V320.9M57.99 319.6V320.9M59.67 319.6V320.9M60.97 319.6V320.9M62.03 319.6V320.9M62.92 319.6V320.9M63.7 319.6V320.9M64.39 319.6V320.9M65 319.6V322M69.03 319.6V320.9M71.39 319.6V320.9M73.07 319.6V320.9M74.37 319.6V320.9M75.43 319.6V320.9M76.32 319.6V320.9M77.1 319.6V320.9M77.79 319.6V320.9M78.4 319.6V322M82.43 319.6V320.9M84.79 319.6V320.9M86.47 319.6V320.9M87.77 319.6V320.9M88.83 319.6V320.9M89.72 319.6V320.9M90.5 319.6V320.9M91.19 319.6V320.9M91.8 319.6V322M95.83 319.6V320.9M98.19 319.6V320.9M99.87 319.6V320.9M101.17 319.6V320.9M102.23 319.6V320.9M103.12 319.6V320.9M103.9 319.6V320.9M104.59 319.6V320.9M105.2 319.6V322M109.23 319.6V320.9M111.59 319.6V320.9M113.27 319.6V320.9M114.57 319.6V320.9M115.63 319.6V320.9M116.52 319.6V320.9M117.3 319.6V320.9M117.99 319.6V320.9M118.6 319.6V322M122.63 319.6V320.9M124.99 319.6V320.9M126.67 319.6V320.9M127.97 319.6V320.9M129.03 319.6V320.9M129.92 319.6V320.9M130.7 319.6V320.9M131.39 319.6V320.9M132 319.6V322M136.03 319.6V320.9M138.39 319.6V320.9M140.07 319.6V320.9M141.37 319.6V320.9M142.43 319.6V320.9M143.32 319.6V320.9M144.1 319.6V320.9M144.79 319.6V320.9M145.4 319.6V322" stroke="#000" stroke-width="0.6" fill="none"/>
<text x="38.7" y="318.4" text-anchor="middle" style="font-family:'Liberation Sans',sans-serif;font-size:3.6px;fill:#222">10<tspan dy="-1.7" dx="0.5" style="font-size:3px">0</tspan></text>
<text x="38.7" y="304.99" text-anchor="middle" style="font-family:'Liberation Sans',sans-serif;font-size:3.6px;fill:#222">10<tspan dy="-1.7" dx="0.5" style="font-size:3px">1</tspan></text>
<text x="38.7" y="291.57" text-anchor="middle" style="font-family:'Liberation Sans',sans-serif;font-size:3.6px;fill:#222">10<tspan dy="-1.7" dx="0.5" style="font-size:3px">2</tspan></text>
<text x="38.7" y="278.16" text-anchor="middle" style="font-family:'Liberation Sans',sans-serif;font-size:3.6px;fill:#222">10<tspan dy="-1.7" dx="0.5" style="font-size:3px">3</tspan></text>
<text x="38.7" y="264.74" text-anchor="middle" style="font-family:'Liberation Sans',sans-serif;font-size:3.6px;fill:#222">10<tspan dy="-1.7" dx="0.5" style="font-size:3px">4</tspan></text>
<text x="38.7" y="251.33" text-anchor="middle" style="font-family:'Liberation Sans',sans-serif;font-size:3.6px;fill:#222">10<tspan dy="-1.7" dx="0.5" style="font-size:3px">5</tspan></text>
<text x="38.7" y="237.91" text-anchor="middle" style="font-family:'Liberation Sans',sans-serif;font-size:3.6px;fill:#222">10<tspan dy="-1.7" dx="0.5" style="font-size:3px">6</tspan></text>
<text x="38.7" y="224.5" text-anchor="middle" style="font-family:'Liberation Sans',sans-serif;font-size:3.6px;fill:#222">10<tspan dy="-1.7" dx="0.5" style="font-size:3px">7</tspan></text>
<text x="52.4" y="328" text-anchor="middle" style="font-family:'Liberation Sans',sans-serif;font-size:3.6px;fill:#222">10<tspan dy="-1.7" dx="0.5" style="font-size:3px">0</tspan></text>
<text x="79.2" y="328" text-anchor="middle" style="font-family:'Liberation Sans',sans-serif;font-size:3.6px;fill:#222">10<tspan dy="-1.7" dx="0.5" style="font-size:3px">2</tspan></text>
<text x="106" y="328" text-anchor="middle" style="font-family:'Liberation Sans',sans-serif;font-size:3.6px;fill:#222">10<tspan dy="-1.7" dx="0.5" style="font-size:3px">4</tspan></text>
<text x="132.8" y="328" text-anchor="middle" style="font-family:'Liberation Sans',sans-serif;font-size:3.6px;fill:#222">10<tspan dy="-1.7" dx="0.5" style="font-size:3px">6</tspan></text>
<path d="M96.71 285.86h.5M108.25 266.39h.5M94.36 285.16h.5M110.78 275.62h.5M90.56 280.21h.5M109.99 271.84h.5M117.41 267.39h.5M101.8 275.34h.5M119.63 255.43h.5M94.02 277.52h.5M104.68 275.28h.5M100.96 277.85h.5M107.9 275.79h.5M111.62 268.05h.5M94.13 291.15h.5M93.36 285.48h.5M93.65 286.46h.5M99.09 282h.5M125.4 250.81h.5M104.22 264.81h.5M104.03 279.86h.5M104.26 277.43h.5M100.45 271.37h.5M104.25 268.59h.5M114.15 259.9h.5M108.1 270.41h.5M107.64 266.41h.5M109.72 267.66h.5M114.27 268.2h.5M101.55 271.84h.5M110.38 271.36h.5M113.09 262.04h.5M109.1 273.08h.5M106.17 274.09h.5M102.5 272.14h.5M95.24 281.71h.5M113.07 276.17h.5M113.95 271.76h.5M111.3 272.06h.5M107.59 276.72h.5M114.15 261.22h.5M106.14 287.21h.5M108.75 276.93h.5M105.13 265.21h.5M126.38 263.36h.5M107.48 276.7h.5M101.06 271.6h.5M104.14 277.58h.5M113.6 269.58h.5M108.93 279.59h.5M101.36 283.81h.5M109.86 266.26h.5M88.15 285.77h.5M107.05 275.5h.5M110.13 260.63h.5M105.92 277.66h.5M93.64 268.74h.5M117.49 277.24h.5M106.81 264.97h.5M101.56 279.31h.5M122.45 259.07h.5M110.05 279.87h.5M109.87 282.33h.5M97.15 279h.5M113.62 274.91h.5M109 271.65h.5M88.66 286.65h.5M97.43 278.25h.5M106.18 270.02h.5M109.08 269.92h.5M101.71 278.37h.5M109.56 275.18h.5M99.44 278.27h.5M100.33 291h.5M112.55 264.11h.5M95.71 274.92h.5M105.4 274.93h.5M119.01 260.11h.5M89.21 273.1h.5M113.63 265.66h.5M93.4 288.06h.5M105.67 299.1h.5M113.11 269.1h.5M94.38 269.64h.5M96.88 271.24h.5M99.54 263.91h.5M101.96 286.33h.5M110.11 259.33h.5M96.5 289.84h.5M105.54 265.86h.5M96.28 278.34h.5M93.01 282.06h.5M114.43 268.51h.5M116.94 259.93h.5M98.94 273.22h.5M97.79 272.03h.5M94.2 291.04h.5M116.25 267.6h.5M113.35 266.44h.5M99.01 281.13h.5M96.87 274.56h.5M86.67 283.12h.5M104.02 276.05h.5M105.63 283.81h.5M106.86 276.12h.5M108.61 263.7h.5M93.11 292.66h.5M103.76 285h.5M109.5 276.36h.5M100.88 262.86h.5M105.81 267.9h.5M96.82 279.66h.5M111.93 272.75h.5M104.1 262.43h.5M90.72 271.94h.5M105.05 278.27h.5M99.3 282h.5M108.79 277.15h.5M94.92 278.83h.5M104.9 287.04h.5M110.34 266.98h.5M105.43 274.21h.5M104.08 273.29h.5M96.59 273.78h.5M105.34 285.79h.5M107.33 271.73h.5M102.3 277.31h.5M103.46 270.71h.5M105.71 274.84h.5M95.56 278.42h.5M92.86 279.37h.5M100.68 260.99h.5M99.44 275.44h.5M99.72 280.43h.5M111.33 267.37h.5M100.29 274.49h.5M106.03 279.51h.5M96.6 274.59h.5M90.93 281.19h.5M98.28 289.51h.5M104.99 272.07h.5M110.82 262.45h.5M111.51 272.58h.5M87.37 281.78h.5M100.66 285.43h.5M107.61 261.76h.5M109.09 266.43h.5M98.82 276.58h.5M94.58 271.82h.5M92.21 278.81h.5M114.54 278.84h.5M120.53 254.07h.5M90.47 286.93h.5M104.58 289.12h.5M104.61 268.82h.5M111.75 270.34h.5M90.65 285.8h.5M101.97 277.34h.5M103.12 273.38h.5M102.59 272.13h.5M103.13 287.23h.5M107.54 274.29h.5M92.21 286.8h.5M104.18 265.09h.5M109.4 266.04h.5M105.7 272.06h.5M109.43 277.9h.5M106.61 283.73h.5M94.81 278.19h.5M104.3 266.65h.5M104.39 281.29h.5M105 260.57h.5M113.88 278.04h.5M110.6 265.82h.5M98.38 278.97h.5M94.8 283.18h.5M101.71 276.4h.5M110.56 265.94h.5M97.65 289.85h.5M94.66 281.98h.5M101.33 275.34h.5M95.86 282.12h.5M115.86 257.24h.5M106.76 280.27h.5M111.32 272.52h.5M101.96 262.51h.5M98.19 282.35h.5M111.65 276.12h.5M105.76 271.21h.5M102.98 274.5h.5M107.66 275.92h.5M98.2 275.3h.5M101.86 285.52h.5M115.76 269.3h.5M112.33 271.92h.5M105.95 277.74h.5M95.71 282.64h.5M101.29 283.38h.5M99.22 279.45h.5M111.21 277.06h.5M94.71 278.24h.5M104.86 265.72h.5M104.41 270.23h.5M96.03 270.19h.5M106.42 268.52h.5M105.2 289.13h.5M121.3 281.95h.5M104.94 271.3h.5M110.19 280.08h.5M105 277.21h.5M103.58 268.62h.5M102.49 272.86h.5M98.41 287.67h.5M108.23 270.8h.5M89.98 275.53h.5M106.39 271.57h.5M92.01 287.81h.5M93.22 286.72h.5M105.78 275.62h.5M105.59 274.46h.5M94.45 282.69h.5M99.2 278.51h.5M107.61 275.56h.5M104.9 254.76h.5M105.45 271.86h.5M122.2 261.71h.5M93.93 289.13h.5M103.71 282.69h.5M96.06 283h.5M102.26 276.15h.5M92.76 273.69h.5M110.29 275.42h.5M99.26 272.6h.5M106.96 275.88h.5M102.27 276.76h.5M108.77 261.29h.5M92.69 273.27h.5M96.07 278.23h.5M94.5 280.31h.5M114.79 261.49h.5M110.9 283.7h.5M96.65 270.15h.5M102.71 269.37h.5M109.84 259.15h.5M93.65 274.44h.5M100.38 271.38h.5M101.66 274.73h.5M102.9 283.21h.5M109.99 268.76h.5M93.5 278.61h.5M114.19 281.49h.5M97.53 276.27h.5M94.76 277.02h.5M96.23 282.04h.5M113.09 264.84h.5M94.08 273.89h.5M104.83 273.83h.5M91.26 280.98h.5M106.98 279.2h.5M108.46 271.53h.5M102.53 278.98h.5M111.49 282.86h.5M94.55 282.68h.5M111 265.19h.5M112.87 264.76h.5M103.1 273.18h.5M90.66 282.51h.5M120.72 261.2h.5M111.1 274.19h.5M111.11 274.69h.5M100.89 276.73h.5M108.77 267.01h.5M93.76 284.63h.5M102.13 281.6h.5M94.74 277.3h.5M107.05 283.16h.5M103.78 276.39h.5M104.66 276.42h.5M114.9 273.27h.5M97.55 292.27h.5M102.29 274.45h.5M118.92 257.11h.5M120.11 264.29h.5M98.42 284.79h.5M107.96 269.6h.5M86.64 291.65h.5M98.1 273.22h.5M114.81 261.11h.5M99.75 277.42h.5M95.37 278.73h.5M105.29 275.85h.5M99.77 278.97h.5M96.14 287.58h.5M99.28 281.79h.5M95.52 280.52h.5M100.44 269.85h.5M119.89 257.03h.5M100.28 273.58h.5M119.32 268.29h.5M100.42 268.7h.5M102.41 281.31h.5M95.67 275.34h.5M92.69 281.74h.5M101.18 273.23h.5M114 284.71h.5M111.51 258.85h.5M106.12 273.24h.5M106.45 280.02h.5M100.07 276.88h.5M100.62 277.95h.5M114.99 268.54h.5M92.88 283.99h.5M101.19 284.16h.5M108.31 276.81h.5M95.99 269.58h.5M107.36 272.91h.5M102.06 267.37h.5M101.49 272.59h.5M100.22 281.79h.5M102.54 269.89h.5M82.85 279.95h.5M103.82 283.53h.5M94.77 268.38h.5M99.29 283.32h.5M119.03 266.98h.5M106.69 273.43h.5M94.73 281.86h.5M98.4 275.39h.5M102.47 273.71h.5M111.08 277.79h.5M110.01 271.39h.5M96.24 272.2h.5M104.76 278.17h.5M101.41 287.19h.5M102.65 279.22h.5M96.64 273.74h.5M113.02 256.25h.5M107.58 266.82h.5M102.37 270.73h.5M104.13 281.67h.5M113.37 258.21h.5M107.09 278.6h.5M101.92 282.57h.5M100.49 283.35h.5M110.92 276.31h.5M101.5 268.81h.5M103.85 266.88h.5M114.14 274.97h.5M105.43 269.22h.5M112.1 267.2h.5M93.85 283.57h.5M111.87 263.94h.5M103.04 273.45h.5M90.32 286.32h.5M106.66 273.55h.5M94.4 269.65h.5M114.35 268.83h.5M115.18 272.24h.5M98.28 276.78h.5M111.82 278.76h.5M91.37 287.26h.5M100.79 282.69h.5M112.2 263.63h.5M95.38 284.88h.5M95.86 272.45h.5M107.48 267.17h.5M103.18 266.02h.5M105.48 262.53h.5M103.82 261.61h.5M111.34 263.99h.5M92.22 286.28h.5M102.08 269.68h.5M101.2 280.07h.5M90.98 266.5h.5M102.21 280.12h.5M109.24 276.66h.5M108.37 289.17h.5M110.01 270.6h.5M114.31 270.63h.5M101.88 272.67h.5M111.92 269.3h.5M86.73 285.87h.5M107.03 272.39h.5M107.76 275.57h.5M110.35 279.71h.5M98.07 278.54h.5M108.43 275.6h.5M114.3 274.62h.5M104.65 282.95h.5M102.76 268.54h.5M110.33 283.5h.5M107.01 268.09h.5M84.72 290.86h.5M99.09 280.98h.5M121.73 260.83h.5M102.12 270.05h.5M94.79 283.62h.5M111.54 289.03h.5M98.51 276.44h.5M111.34 267.37h.5M100.03 288.99h.5M96.47 273.37h.5M107.46 274.74h.5M103.83 280.34h.5M105.71 266.45h.5M80.84 282.78h.5M107.21 280.57h.5M115.38 272.71h.5M115.98 261.76h.5M104.88 262.54h.5M109.57 271.69h.5M101.23 274.72h.5M96.55 284.26h.5M110.69 264.78h.5M104.59 269.33h.5M101.46 270.24h.5M105.22 271.96h.5M103.36 271.13h.5M94.41 283.14h.5M116.3 273.08h.5M104.3 280.59h.5M110.04 271.18h.5M94.32 288.11h.5M101.38 286.64h.5M111.07 271.71h.5M88.84 296.42h.5M103.43 266.03h.5M110.27 268.54h.5M99.62 274.47h.5M95.07 281.62h.5M124.9 253.25h.5M102.48 271.79h.5M97.32 278.24h.5M100.82 285.02h.5M104.91 280.41h.5M99.22 287.19h.5M105.8 277.93h.5M99.51 273.3h.5M109.98 265.05h.5M99.22 273.63h.5M103.42 272.68h.5M106.67 274.56h.5M93.65 275.9h.5M109.81 275.35h.5M103.9 266.49h.5M108.98 272.29h.5M106.99 274.83h.5M102.13 278.62h.5M107.83 266.92h.5M93.48 285.85h.5M97.96 267.87h.5M101.16 282.5h.5M102.84 276.93h.5M98.44 287.89h.5M114.5 261.79h.5M94.3 277.07h.5M109.85 269.23h.5M102.69 285.46h.5M110.86 271.83h.5M91.34 288.23h.5M103.14 266.75h.5M115.03 273.38h.5M107.74 265.4h.5M102.26 283.91h.5M114.72 272.22h.5M111.16 266.24h.5M93.86 272.34h.5M117.21 277.29h.5M98.63 277.35h.5M109.23 271.93h.5M91.67 283.29h.5M103.67 290.42h.5M101.87 283.69h.5M123.37 267.59h.5M119.09 270.36h.5M93.95 283.52h.5M97.55 279.94h.5M114.8 250.4h.5M102.64 267.21h.5M117.29 269.9h.5M107.77 286.23h.5M108.84 279.3h.5M103.5 271.31h.5M100.52 277.93h.5M108.1 271.33h.5M118.58 257.31h.5M97.7 276.56h.5M92.95 276.46h.5M100.27 285.86h.5M103.27 274.48h.5M109.81 276.47h.5M110.49 273.51h.5M98.78 278.79h.5M97.94 280.95h.5M96.65 280.33h.5M101.53 276.08h.5M99.89 275.83h.5M110.99 264.62h.5M97.45 283.66h.5M92.22 280.01h.5M97.87 269.3h.5M83.03 300.39h.5M104.21 262.22h.5M99.64 284.1h.5M86.96 287.34h.5M94.71 283.78h.5M93.62 293.15h.5M103.66 277.58h.5M93.42 270.84h.5M97.5 272.15h.5M100.4 272.57h.5M100.6 277.15h.5M111.52 272.33h.5M96.71 282.91h.5M115.1 266.31h.5M98.17 280.51h.5M104.67 281.23h.5M105.12 276.51h.5M113.18 254.45h.5M90.28 277.24h.5M96.03 290.21h.5M111.52 278.78h.5M87.01 287.22h.5M116.99 268.21h.5M112.66 271.84h.5M103.68 275.23h.5M106.85 278.08h.5M103.6 277.78h.5M109.04 260.93h.5M100.58 282.96h.5M101.16 276.93h.5M119.09 261.3h.5M104.79 282.28h.5M116.22 253.08h.5M99.45 280.87h.5M107.31 287.49h.5M105.54 270.26h.5M103.83 269.19h.5M99.84 280.35h.5M111.12 250.23h.5M111.33 276.9h.5M115.6 276.43h.5M107.06 272.64h.5M99.44 273.61h.5M110.05 259.39h.5M100.73 274.67h.5M89.99 273.9h.5M101.45 278.8h.5M107.6 277.26h.5M100.03 274.56h.5M108.03 275.44h.5M91.81 277.13h.5M100.57 286.66h.5M106.89 265.11h.5M107.36 277.48h.5M109.94 263.42h.5M107.13 282h.5M125.32 262.7h.5M97.53 285.48h.5M101.28 277.53h.5M97.28 278.82h.5M110.13 281.61h.5M109.77 271.73h.5M100.89 272.79h.5M106.57 281.35h.5M116.35 275.9h.5M105.17 273.5h.5M94.15 288.86h.5M97.63 293.41h.5M99.29 280.18h.5M92.62 283.88h.5M101.47 286.21h.5M100.78 269.71h.5M90.32 289.62h.5M96.12 275.4h.5M106.76 270.5h.5M102.05 272.7h.5M97.98 278.2h.5M95.11 289.52h.5M99.79 266.74h.5M108.47 278.6h.5M109.9 278.08h.5M101.71 277.5h.5M91.44 282.13h.5M87.97 286.05h.5M107.06 275.42h.5M111.77 267.29h.5M98.48 284.3h.5M109.16 282.55h.5M120.17 264.16h.5M93.94 282.19h.5M102.13 271.7h.5M109.55 273.9h.5M109.96 270.03h.5M94.46 279.25h.5M107.61 280.86h.5M117.67 267.07h.5M108.44 275.07h.5M113.81 273.71h.5M103.52 264h.5M111.31 269.7h.5M102.38 280.68h.5M105.23 273.18h.5M92.61 288.42h.5M107.05 271.2h.5M94.57 288.84h.5M108.99 270.76h.5M105.04 271.16h.5M101.05 282.14h.5M101.8 278.75h.5M127.93 253.69h.5M98.38 269.07h.5M106.96 277.32h.5M97.9 279.94h.5M90.48 294.11h.5M102.06 282.21h.5M112.03 264.82h.5M111.02 269.02h.5M101.09 276.08h.5M102.57 286.12h.5M105.65 265.59h.5M106.42 266.8h.5M97.88 290.7h.5M99.34 288.97h.5M108.19 277.04h.5M111.21 275.56h.5M107.98 274.85h.5M109.23 277.32h.5M104.66 281.81h.5M113.35 264.09h.5M104.54 270.51h.5M102.54 278.52h.5M97.92 275.08h.5M104.01 276.36h.5M108.3 275.48h.5M96.88 293.41h.5M99.48 274.19h.5M102.66 279.74h.5M107.96 267.81h.5M98.63 268.99h.5M104.22 273.87h.5M103.91 281.67h.5M119.33 265.63h.5M103.95 286.42h.5M101.12 277.84h.5M101.31 281.34h.5M107.74 271.87h.5M101.56 276.58h.5M104.43 281.73h.5M99.47 278.87h.5M95.88 275.07h.5M92.61 271.75h.5M106.99 276.34h.5M105.08 286.9h.5M96.11 286.25h.5M102.93 270.59h.5M102.72 283.22h.5M102.77 277.87h.5M114.37 266.85h.5M82.97 286.83h.5M107.86 269.7h.5M82.86 276.12h.5M110.37 281.63h.5M80.5 276.59h.5M103.07 270.43h.5M97 277.79h.5M94.91 286.32h.5M110.73 271.41h.5M100.56 286.44h.5M102.54 280.67h.5M95.56 287.61h.5M113.17 277.25h.5M103.17 278.9h.5M99.72 285.83h.5M112.55 275.99h.5M92.33 274.22h.5M99.51 276.54h.5M97.02 285.83h.5M111.08 271.35h.5M112.54 270.06h.5M89.88 281.96h.5M100.84 283.09h.5M109.74 270.32h.5M106.42 265.01h.5M106.45 285.04h.5M109.43 278.47h.5M77.22 284h.5M97.73 288.65h.5M112.68 261.16h.5M88 279.96h.5M95.56 286.71h.5M106.33 288.44h.5M104.44 268.02h.5M102.44 274.39h.5M111.87 275.05h.5M101.8 283.99h.5M105.67 272.08h.5M106.2 278.21h.5M95.35 276.3h.5M112.2 266.98h.5M97.81 283.88h.5M88.34 288.91h.5M87.27 285.71h.5M82.34 287.66h.5M108.12 269.06h.5M97.83 294.83h.5M101.88 289h.5M90.19 274.19h.5M115.38 260.38h.5M112.81 276.64h.5M89.86 287.69h.5M98.62 284.39h.5M95.55 271.1h.5M104.83 280.15h.5M100.89 281.97h.5M96.19 280.94h.5M104.74 274.91h.5M116.22 271.48h.5M111.52 273.76h.5M97.48 270.25h.5M117.78 276.85h.5M101.97 274.01h.5M105.91 282.98h.5M99.4 270.08h.5M96.32 274.7h.5M95.52 274.33h.5M99.78 290.86h.5M103.39 261.13h.5M90.64 282.57h.5M91.82 273.5h.5M101.98 262.38h.5M110.12 274.81h.5M95.11 276.76h.5M102.25 277.2h.5M77.48 287.53h.5M105.27 272.29h.5M93.26 275.55h.5M91.71 278.9h.5M120.12 249.12h.5M116.51 267.2h.5M103.8 276.22h.5M104.62 287.55h.5M105.42 272.84h.5M100.89 278.88h.5M89.8 284.43h.5M98.3 284.8h.5M98.42 263.45h.5M103.37 283.39h.5M84.79 281.55h.5M109.28 268.51h.5M92.01 274.78h.5M100.23 273.01h.5M104.77 277.32h.5M105.86 269.92h.5M96.66 281.24h.5M100.98 278.56h.5M95.48 280.01h.5M93.5 278.8h.5M107.38 281.19h.5M98.92 283.94h.5M104.59 274.78h.5M104.66 269.01h.5M107.29 273.96h.5M72.17 306.07h.5M114.65 281.5h.5M92.26 285.76h.5M100.05 269.63h.5M113.5 269.67h.5M89.06 277.57h.5M107.56 291.47h.5M109.39 248.31h.5M88.05 294.45h.5M97.46 274.82h.5M106.79 272.68h.5M104.74 275.97h.5M97.2 291.76h.5M101.91 285.95h.5M107.31 271.71h.5M102.12 275.66h.5M83.63 289.92h.5M97.98 265.96h.5M92.68 293.82h.5M101.58 263.28h.5M104.92 273.12h.5M108.26 267.74h.5M95.95 275.17h.5M102.13 274.96h.5M93.88 280.5h.5M97.15 285.88h.5M85.4 277.73h.5M97.27 289.73h.5M99.4 284.05h.5M105.35 268.76h.5M109.87 273.41h.5M97.68 273.97h.5M95.06 271.36h.5M96.17 276.4h.5M106.39 275.15h.5M99.15 286.17h.5M111.83 267.87h.5M96.74 285.24h.5M77.12 293.52h.5M114.77 281.91h.5M101.14 290.1h.5M129.62 267.53h.5M85.04 300.9h.5M107.11 280.3h.5M96.86 275.46h.5M105.51 285.95h.5M107.21 268.92h.5M108.14 278.08h.5M105.88 272.28h.5M92.07 278.66h.5M94.83 277.81h.5M81.04 282.77h.5M103.97 264.66h.5M89.28 287.2h.5M119.26 271.52h.5M92.94 275.32h.5M92.38 276.9h.5M98.26 283.66h.5M88.27 281.72h.5M98.62 278.93h.5M90.84 279.32h.5M87.79 282.39h.5M104.61 271.65h.5M76.17 304.73h.5M96.66 273.35h.5M85.69 264.49h.5M91.4 295.79h.5M129.39 270.42h.5M94.67 283.05h.5M102.62 264.86h.5M113.38 259.58h.5M99.18 268.64h.5M104.2 273.99h.5M105.64 262.78h.5M108.82 285.83h.5M91.94 288.25h.5M102.76 271.09h.5M104.77 285.95h.5M113.63 270.59h.5M98.48 269.38h.5M109.62 284.91h.5M104.49 262h.5M79.66 290.42h.5M100.09 273.01h.5M99.76 281.12h.5M109.91 270.82h.5M105.98 260.08h.5M107.03 275.29h.5M93.18 295h.5M80.47 282.84h.5M130.47 261.8h.5M110.27 280.52h.5M106.36 262.3h.5M111.43 279.89h.5M99.9 278.64h.5M100.06 284.29h.5M93.5 278.61h.5M86 282.38h.5M105.03 277.52h.5M92.97 275.04h.5M105.62 275.99h.5M110.25 264.33h.5M99.56 282.81h.5M114.46 264.45h.5M96.18 273.11h.5M101.76 284.64h.5M113.52 275.54h.5M89.96 294.32h.5M95.32 287.35h.5M79.34 295.66h.5M98.66 290.32h.5M107.8 282.34h.5M105.68 290.12h.5M105.34 289.82h.5M92.34 276.17h.5M107.33 267.79h.5M94.6 270.91h.5M98.43 280.33h.5M96.39 284.61h.5M84.26 299.96h.5M103.8 287.47h.5M94.98 276.64h.5M98.19 281.99h.5M104.35 269.91h.5M95.74 285.56h.5M100.79 261.79h.5M88.62 282.22h.5M121.83 269.15h.5M110.38 272.93h.5M95.87 291.56h.5M93.53 276.71h.5M112.11 254.2h.5M114.39 266.75h.5M93.5 285.35h.5M94.25 284.75h.5M89.98 276.43h.5M122.8 252.95h.5M109.73 268.73h.5M101.58 265.32h.5M77.2 269.45h.5M112.04 271.01h.5M94.09 290.65h.5M119.28 286.48h.5M107.21 279.55h.5M109.98 275.77h.5M98.99 275.16h.5M112.89 277.26h.5M78.42 275.3h.5M97.34 288.71h.5M89.73 268.74h.5M106.51 279.69h.5M120.07 272.5h.5M118.97 267.07h.5M106.76 275.72h.5M79.45 280.45h.5M113.73 280.03h.5M92 285.81h.5M107.95 280.21h.5M99.19 278.82h.5M84.45 280.43h.5M95.47 273.27h.5M91.67 279.96h.5M99.45 283.48h.5M81.38 279.19h.5M97.9 274.87h.5M98.56 274.13h.5M109.7 272.65h.5M81.8 286.28h.5M113.2 261.05h.5M93.54 278.86h.5M110.55 283.27h.5M90.62 269.41h.5M105.15 281.64h.5M101.11 276.9h.5M88.59 295.07h.5M77.48 273.26h.5M107.94 276.37h.5M104.17 277.82h.5M118.73 280.63h.5M89.67 285.76h.5M77.47 272.02h.5M109.69 271.41h.5M67.8 285.21h.5M87.46 283.25h.5M93.15 273.7h.5M87.24 284.93h.5M83.5 281.93h.5M83.26 284.02h.5M118.62 275.29h.5M109.96 276.87h.5M82.41 279.53h.5M96.68 280.35h.5M88.41 283.66h.5M86.07 280.84h.5M93.16 271.31h.5M107.9 274.9h.5M96.42 277.46h.5M66.19 276.97h.5M85.3 286.87h.5M88.74 283.54h.5M80.72 276.57h.5M90.81 285.81h.5M73.82 282.62h.5M100.46 277.43h.5M96.11 282.63h.5M97.17 271.14h.5M101.91 271.29h.5M93.06 287.66h.5M128.34 278.21h.5M99.28 272.02h.5M88.08 290.33h.5M97.13 268.78h.5M115.91 276.08h.5M112.43 275.91h.5M66.63 281.03h.5M93.03 277.52h.5M113.19 268.96h.5M93.76 278.02h.5M92.32 272.27h.5M75.56 267.1h.5M98.99 275.71h.5M96.01 271.16h.5M93.61 272.32h.5M82.8 283.42h.5M104.05 279.26h.5M93.94 275.9h.5M114.72 280.55h.5M78.38 275.39h.5M87.19 279.88h.5M78.04 289.15h.5M66.89 278.03h.5M86.54 282.7h.5M69 279.36h.5M96.3 283.02h.5M82.05 279.45h.5M77.21 281.59h.5M74.55 272.09h.5M71.93 280.94h.5M74.14 284.92h.5M94.86 281.56h.5M89.91 282.81h.5M86.65 282.18h.5M88.23 281.62h.5M75.58 277.53h.5M76.55 283.45h.5M87.65 275.3h.5M75.84 277.82h.5M90.95 277.59h.5M81.74 276.53h.5M83.99 285.53h.5M78.36 278.38h.5M98.01 279.99h.5M75.58 284.64h.5M74.3 282.66h.5M63.33 277.88h.5M91.04 275.61h.5M78.31 280.04h.5M83.81 277.15h.5M79.67 286.95h.5M96.16 278.66h.5M74.58 278.2h.5M82.01 281.29h.5M96.55 275.15h.5M85 277.14h.5M84.8 276.12h.5M87.73 283.22h.5M80.72 278.16h.5M84.25 273.65h.5M97.76 271.65h.5M80.7 275.9h.5M95.75 275.4h.5M81.09 287.12h.5M121.5 267.75h.5M123.25 274.4h.5M119.12 272.42h.5M122.89 278.25h.5M127.87 278.16h.5M123.41 278.69h.5M123.42 281.28h.5M124.53 269.74h.5M127.3 261.46h.5M117.27 268.36h.5M120.89 264.63h.5M114.78 260.99h.5M122.67 267.61h.5M134.86 276.5h.5M118.99 283.21h.5M124.89 280.43h.5M118.96 282.06h.5M127.98 269.2h.5M118.37 271.16h.5M127.3 289.52h.5M133.85 281.87h.5M121.56 270.96h.5M124.54 270.82h.5M120.48 272.01h.5M127.15 271.84h.5M123.91 271.02h.5M121.68 270.93h.5M129.59 273.55h.5M130.24 270.56h.5M126.62 262.53h.5M120.98 272.98h.5M119.77 272.8h.5M118.27 272.72h.5M119.74 273.6h.5M120.36 266.37h.5M130.2 249.54h.5M127.38 250.7h.5M135.52 247.11h.5M133.73 249.4h.5M129.7 252.22h.5M139.2 244.24h.5M138.19 245.21h.5M135.23 244.17h.5M135.37 247.87h.5M126.78 249.15h.5M127.51 248.74h.5M132.67 248.24h.5M123.04 251.49h.5M133.13 248.59h.5M135.98 243.84h.5M132.35 248.76h.5M133.09 245.86h.5M127.1 250.29h.5M130.66 245.83h.5M132.73 248.55h.5M132.34 243.68h.5M132.64 246.89h.5M130.43 250.91h.5M137.21 247.23h.5M131.98 251.36h.5M128.48 249.82h.5M129.25 247.94h.5M133.43 252.24h.5M132.66 249.55h.5M132.12 250.96h.5M131.58 247.29h.5M132.75 251.33h.5M131.99 251.15h.5M132.55 252.54h.5M132.87 249.78h.5M131.09 250.77h.5M129.86 246.76h.5M131.78 246.59h.5M136.91 248.57h.5M132.01 250.16h.5M123.9 254.74h.5M129.8 250.93h.5M139.01 243.17h.5M130.37 250.08h.5M131.87 245.62h.5M129.37 252.66h.5M129.88 250.67h.5M126.43 249.1h.5M125.67 251.66h.5M135.41 247.77h.5M130.77 249.74h.5M132.9 247.95h.5M134.57 251.66h.5M138.53 245.35h.5M128.54 253.78h.5M136.19 251.25h.5M131.35 248.18h.5M135.99 250.97h.5M133.32 243.55h.5M133.73 246.3h.5M126.5 253.33h.5M130.03 259.28h.5M131.98 249.83h.5M127.35 252.43h.5M127.69 253.58h.5M134.81 250.52h.5M119.83 254.4h.5M126.44 246.97h.5M130.13 249.23h.5M129.1 251.96h.5M127.02 257.93h.5M133.43 245.67h.5M132.22 251.62h.5M122.79 252.6h.5M127.79 240.67h.5M120.62 256.64h.5M130.23 245.99h.5M137.21 254.73h.5M129.28 250.14h.5M126.72 247.66h.5M131.76 249.6h.5M135.13 252.72h.5M128.63 251.42h.5M133.13 255.15h.5M119.2 256.11h.5" stroke="#000" stroke-width="0.55" fill="none"/>
<path d="M47 219.5V319.6H147.5V219.5" fill="none" stroke="#555" stroke-width="0.8"/>
<path d="M47 219.5H147.5" fill="none" stroke="#555" stroke-width="0.8"/>
<path d="M116.4 219.5V319.6M47 261.3H147.5" stroke="#333" stroke-width="1"/>
<text x="100.75" y="210.9" text-anchor="middle" style="font-family:'Liberation Serif',serif;stroke:#000;stroke-width:0.1px;font-size:10.2px">0 μM</text>
<text x="48.4" y="227.4" style="font-family:'Liberation Sans',sans-serif;font-size:4.5px;fill:#222">Q1</text><text x="48.4" y="233.5" style="font-family:'Liberation Sans',sans-serif;font-size:4.5px;fill:#222">0.043</text>
<text x="138.2" y="227.4" text-anchor="end" style="font-family:'Liberation Sans',sans-serif;font-size:4.5px;fill:#222">Q2</text><text x="138.2" y="233.5" text-anchor="end" style="font-family:'Liberation Sans',sans-serif;font-size:4.5px;fill:#222">1.05</text>
<text x="48.4" y="308.9" style="font-family:'Liberation Sans',sans-serif;font-size:4.5px;fill:#222">Q4</text><text x="48.4" y="314.6" style="font-family:'Liberation Sans',sans-serif;font-size:4.5px;fill:#222">97.8</text>
<text x="138.2" y="308.9" text-anchor="end" style="font-family:'Liberation Sans',sans-serif;font-size:4.5px;fill:#222">Q3</text><text x="138.2" y="314.6" text-anchor="end" style="font-family:'Liberation Sans',sans-serif;font-size:4.5px;fill:#222">1.07</text>
<ellipse cx="103.4" cy="275.3" rx="12.4" ry="5" transform="rotate(-48 103.4 275.3)" fill="#000"/><ellipse cx="99" cy="279.6" rx="6.6" ry="5.8" transform="rotate(-48 99 279.6)" fill="#000"/>
<path d="M164.1 317.3H166.5M165.2 313.15H166.5M165.2 310.72H166.5M165.2 309H166.5M165.2 307.66H166.5M165.2 306.57H166.5M165.2 305.65H166.5M165.2 304.85H166.5M165.2 304.15H166.5M164.1 303.51H166.5M165.2 299.36H166.5M165.2 296.94H166.5M165.2 295.21H166.5M165.2 293.88H166.5M165.2 292.79H166.5M165.2 291.86H166.5M165.2 291.06H166.5M165.2 290.36H166.5M164.1 289.73H166.5M165.2 285.58H166.5M165.2 283.15H166.5M165.2 281.43H166.5M165.2 280.09H166.5M165.2 279H166.5M165.2 278.08H166.5M165.2 277.28H166.5M165.2 276.57H166.5M164.1 275.94H166.5M165.2 271.79H166.5M165.2 269.37H166.5M165.2 267.64H166.5M165.2 266.31H166.5M165.2 265.22H166.5M165.2 264.29H166.5M165.2 263.49H166.5M165.2 262.79H166.5M164.1 262.16H166.5M165.2 258.01H166.5M165.2 255.58H166.5M165.2 253.86H166.5M165.2 252.52H166.5M165.2 251.43H166.5M165.2 250.51H166.5M165.2 249.71H166.5M165.2 249H166.5M164.1 248.37H166.5M165.2 244.22H166.5M165.2 241.79H166.5M165.2 240.07H166.5M165.2 238.74H166.5M165.2 237.64H166.5M165.2 236.72H166.5M165.2 235.92H166.5M165.2 235.22H166.5M164.1 234.59H166.5M165.2 230.44H166.5M165.2 228.01H166.5M165.2 226.29H166.5M165.2 224.95H166.5M165.2 223.86H166.5M165.2 222.94H166.5M165.2 222.14H166.5M165.2 221.43H166.5M164.1 220.8H166.5M171.1 320.1V322.5M175.13 320.1V321.4M177.49 320.1V321.4M179.17 320.1V321.4M180.47 320.1V321.4M181.53 320.1V321.4M182.42 320.1V321.4M183.2 320.1V321.4M183.89 320.1V321.4M184.5 320.1V322.5M188.53 320.1V321.4M190.89 320.1V321.4M192.57 320.1V321.4M193.87 320.1V321.4M194.93 320.1V321.4M195.82 320.1V321.4M196.6 320.1V321.4M197.29 320.1V321.4M197.9 320.1V322.5M201.93 320.1V321.4M204.29 320.1V321.4M205.97 320.1V321.4M207.27 320.1V321.4M208.33 320.1V321.4M209.22 320.1V321.4M210 320.1V321.4M210.69 320.1V321.4M211.3 320.1V322.5M215.33 320.1V321.4M217.69 320.1V321.4M219.37 320.1V321.4M220.67 320.1V321.4M221.73 320.1V321.4M222.62 320.1V321.4M223.4 320.1V321.4M224.09 320.1V321.4M224.7 320.1V322.5M228.73 320.1V321.4M231.09 320.1V321.4M232.77 320.1V321.4M234.07 320.1V321.4M235.13 320.1V321.4M236.02 320.1V321.4M236.8 320.1V321.4M237.49 320.1V321.4M238.1 320.1V322.5M242.13 320.1V321.4M244.49 320.1V321.4M246.17 320.1V321.4M247.47 320.1V321.4M248.53 320.1V321.4M249.42 320.1V321.4M250.2 320.1V321.4M250.89 320.1V321.4M251.5 320.1V322.5M255.53 320.1V321.4M257.89 320.1V321.4M259.57 320.1V321.4M260.87 320.1V321.4M261.93 320.1V321.4M262.82 320.1V321.4M263.6 320.1V321.4M264.29 320.1V321.4M264.9 320.1V322.5M268.93 320.1V321.4" stroke="#000" stroke-width="0.6" fill="none"/>
<text x="158.2" y="318.9" text-anchor="middle" style="font-family:'Liberation Sans',sans-serif;font-size:3.6px;fill:#222">10<tspan dy="-1.7" dx="0.5" style="font-size:3px">0</tspan></text>
<text x="158.2" y="305.11" text-anchor="middle" style="font-family:'Liberation Sans',sans-serif;font-size:3.6px;fill:#222">10<tspan dy="-1.7" dx="0.5" style="font-size:3px">1</tspan></text>
<text x="158.2" y="291.33" text-anchor="middle" style="font-family:'Liberation Sans',sans-serif;font-size:3.6px;fill:#222">10<tspan dy="-1.7" dx="0.5" style="font-size:3px">2</tspan></text>
<text x="158.2" y="277.54" text-anchor="middle" style="font-family:'Liberation Sans',sans-serif;font-size:3.6px;fill:#222">10<tspan dy="-1.7" dx="0.5" style="font-size:3px">3</tspan></text>
<text x="158.2" y="263.76" text-anchor="middle" style="font-family:'Liberation Sans',sans-serif;font-size:3.6px;fill:#222">10<tspan dy="-1.7" dx="0.5" style="font-size:3px">4</tspan></text>
<text x="158.2" y="249.97" text-anchor="middle" style="font-family:'Liberation Sans',sans-serif;font-size:3.6px;fill:#222">10<tspan dy="-1.7" dx="0.5" style="font-size:3px">5</tspan></text>
<text x="158.2" y="236.19" text-anchor="middle" style="font-family:'Liberation Sans',sans-serif;font-size:3.6px;fill:#222">10<tspan dy="-1.7" dx="0.5" style="font-size:3px">6</tspan></text>
<text x="158.2" y="222.4" text-anchor="middle" style="font-family:'Liberation Sans',sans-serif;font-size:3.6px;fill:#222">10<tspan dy="-1.7" dx="0.5" style="font-size:3px">7</tspan></text>
<text x="171.9" y="328.5" text-anchor="middle" style="font-family:'Liberation Sans',sans-serif;font-size:3.6px;fill:#222">10<tspan dy="-1.7" dx="0.5" style="font-size:3px">0</tspan></text>
<text x="198.7" y="328.5" text-anchor="middle" style="font-family:'Liberation Sans',sans-serif;font-size:3.6px;fill:#222">10<tspan dy="-1.7" dx="0.5" style="font-size:3px">2</tspan></text>
<text x="225.5" y="328.5" text-anchor="middle" style="font-family:'Liberation Sans',sans-serif;font-size:3.6px;fill:#222">10<tspan dy="-1.7" dx="0.5" style="font-size:3px">4</tspan></text>
<text x="252.3" y="328.5" text-anchor="middle" style="font-family:'Liberation Sans',sans-serif;font-size:3.6px;fill:#222">10<tspan dy="-1.7" dx="0.5" style="font-size:3px">6</tspan></text>
<path d="M216.95 282.92h.5M223.29 272.62h.5M234.07 265.92h.5M230.33 280.1h.5M219.31 271.52h.5M215.13 279.94h.5M234.23 270.61h.5M240.81 270.63h.5M241.45 262.74h.5M238.86 265.29h.5M225.6 278.77h.5M227.08 271.04h.5M244.41 260.97h.5M223.54 275.19h.5M243.85 255.2h.5M234.72 269.1h.5M232.98 270.54h.5M222.37 273.89h.5M225.08 272.02h.5M238.16 271.67h.5M222.49 280.07h.5M217.96 276.57h.5M225.94 274.11h.5M216.02 266.43h.5M236.8 261.62h.5M224.78 278.77h.5M218.51 271.47h.5M232.31 270.11h.5M223.86 280.61h.5M226.62 265.74h.5M241.19 260.89h.5M220.37 281.46h.5M231.33 274.47h.5M220.61 284.91h.5M236.52 267.91h.5M235.99 272.27h.5M233.09 267.57h.5M224.62 281.6h.5M235.57 266.31h.5M230.74 273.47h.5M209.69 290.56h.5M209.57 290.2h.5M241.08 271.12h.5M225.18 276.81h.5M219.88 265.18h.5M232.68 267.02h.5M224.88 268.51h.5M227.25 272.69h.5M237.7 264.26h.5M251.91 246.63h.5M225.18 273.78h.5M225.99 282.78h.5M228.13 263.41h.5M231.67 275.22h.5M217.24 282.44h.5M232.8 281.56h.5M229.1 267.9h.5M229.01 282.32h.5M230.94 282.97h.5M215.11 282.29h.5M223.33 271.44h.5M227.87 275.91h.5M217.9 271.94h.5M241.84 267.73h.5M223.13 277.92h.5M211.46 293.39h.5M215.7 279.49h.5M239.4 252.96h.5M224.11 268.42h.5M209.96 281.03h.5M225.23 265.9h.5M225.18 278.64h.5M222.03 268.86h.5M238.76 262.18h.5M234.44 258.92h.5M235.6 255.98h.5M213.03 282.78h.5M225.34 275.58h.5M225.1 278.13h.5M235.14 260.73h.5M215.84 280.3h.5M235.88 269.2h.5M221.64 271.25h.5M230.13 275.48h.5M226.02 281.4h.5M229.84 271.55h.5M226.86 281.02h.5M222.95 266.87h.5M232.03 265.08h.5M235.77 265.26h.5M223.15 277.04h.5M221.05 272.78h.5M230 274.78h.5M227.52 271.36h.5M224.93 277.88h.5M232.26 273.46h.5M236.59 276.72h.5M215.45 282.82h.5M234 271.45h.5M212.1 278.66h.5M230.21 275.95h.5M230.67 259.51h.5M231.86 275.16h.5M224.25 268.52h.5M217.79 272.65h.5M235.28 263.04h.5M221.35 272.2h.5M223.39 270.08h.5M219.88 278.75h.5M226.96 275.26h.5M232 275.08h.5M227.71 273.33h.5M226.41 267.9h.5M234.28 262.08h.5M219.41 287.22h.5M230.31 265.76h.5M237.29 268.78h.5M228.8 263.4h.5M225.32 267.48h.5M220.96 274.5h.5M222.5 279.63h.5M223.32 279.66h.5M226.62 268.96h.5M230.62 273.27h.5M234.87 263.42h.5M241.83 262.1h.5M232.24 259.08h.5M223.15 283.47h.5M227.01 275.25h.5M231.62 259.09h.5M236.56 275.49h.5M233.41 266.95h.5M231.42 268.3h.5M236.98 271.16h.5M227.34 275.62h.5M231.78 272.53h.5M230.08 262.84h.5M238.49 267h.5M218.27 278.74h.5M215.57 281.23h.5M226.06 266.06h.5M218.8 274.56h.5M219.7 274.37h.5M221.1 281.4h.5M223.09 270.91h.5M232.75 263.49h.5M229.99 261.9h.5M236.2 261.01h.5M221.5 280.03h.5M214.03 277.75h.5M227.47 268.93h.5M230.59 269.89h.5M229.48 270.86h.5M232.46 267.27h.5M238.27 267.71h.5M207.32 279.84h.5M237.3 260h.5M228.23 270.51h.5M236.05 277.59h.5M222.2 277.23h.5M223.91 268.54h.5M219.94 277.26h.5M228.27 273.55h.5M207.94 280.43h.5M238.77 260.26h.5M231.96 265.12h.5M228.5 284.03h.5M215.32 277.62h.5M232.23 267.59h.5M215.57 283.87h.5M227.85 262.12h.5M225.51 278.6h.5M234.08 251.37h.5M222.2 276.97h.5M217.69 275.42h.5M225.08 277.31h.5M222.02 282.35h.5M235.92 269.29h.5M236.85 259.92h.5M229.89 275.82h.5M239.37 266.6h.5M222.36 273.65h.5M216.17 279.75h.5M219.1 276.69h.5M226.96 277.51h.5M233.31 266.15h.5M218.63 279.81h.5M232.98 272.04h.5M231.2 273.41h.5M224.35 278.81h.5M231.5 265.96h.5M225.41 281.43h.5M221.99 281.24h.5M224.12 272.87h.5M223.95 272.45h.5M232.37 278.31h.5M237.42 261.79h.5M233.42 271.95h.5M229.71 281.15h.5M229.33 273.99h.5M216.73 275.01h.5M217.87 276.87h.5M233.77 264.07h.5M232.35 264.76h.5M220.69 279.26h.5M219.15 269.41h.5M231.15 275.75h.5M221.95 269.64h.5M217.89 273.36h.5M222.47 270.71h.5M226.87 273.52h.5M233.32 259.31h.5M217.15 291.53h.5M229.22 268.02h.5M228.02 265.66h.5M226.76 276.72h.5M225.27 274.76h.5M230.74 269.58h.5M226.97 275.52h.5M240.77 267.32h.5M223.07 280.68h.5M208.88 280.51h.5M231.75 271.2h.5M231.87 257.19h.5M233.39 263.02h.5M225.1 276.84h.5M234.56 259.49h.5M212.79 281.89h.5M229.97 276.92h.5M228.9 268.7h.5M222.01 274.12h.5M229.13 260.11h.5M219.38 274.04h.5M235.74 264.93h.5M224.52 279.24h.5M244.57 262.22h.5M216.95 280.39h.5M229.87 258.48h.5M216.9 279.17h.5M228.42 265.92h.5M227.72 270.64h.5M225.76 266.05h.5M204.27 280.26h.5M231.29 274.29h.5M225.68 263.64h.5M213.47 283.11h.5M214.74 272.41h.5M220.36 273.57h.5M227.34 274.27h.5M228.97 271.54h.5M230.52 268.31h.5M222.67 274.16h.5M234.82 263.22h.5M238.01 272.18h.5M233.16 253.29h.5M231.11 274.44h.5M221.51 272.98h.5M214.48 279.75h.5M221.21 266.04h.5M224.32 269.57h.5M223.8 268.54h.5M228.07 272.21h.5M219.84 274.76h.5M235.83 267.85h.5M222.61 278.99h.5M216.93 278.4h.5M203.89 290.28h.5M230.43 265.99h.5M229.29 266.12h.5M228.72 269.7h.5M226.25 285.8h.5M216.67 273.56h.5M229.35 272.93h.5M229.13 269.56h.5M233.21 272.15h.5M227.25 263.47h.5M239.46 260.39h.5M214.53 288.95h.5M226.74 274.18h.5M239.81 256.96h.5M219.36 273.29h.5M230.34 273.14h.5M230.32 270.14h.5M212.22 287.61h.5M233.28 263.2h.5M219.95 272.56h.5M223.94 265.47h.5M240.31 258.57h.5M218.84 272.33h.5M233.86 271.78h.5M223.37 276.65h.5M232.07 273.43h.5M235.23 272.12h.5M224.61 290.47h.5M219.86 271.98h.5M221.36 279.85h.5M240.05 274.97h.5M233.58 261.37h.5M223.02 273.05h.5M222.05 275.77h.5M226.07 280.29h.5M231.32 272.01h.5M222.26 269.5h.5M228.96 267.97h.5M245.29 262.73h.5M215.1 277.24h.5M222.3 275.28h.5M234.77 263.86h.5M229.33 268.07h.5M229.17 277.76h.5M233.1 278.62h.5M227.84 273.82h.5M231.92 271.72h.5M238.98 256.87h.5M220.24 272.74h.5M241.63 261.46h.5M231.69 270.66h.5M215.85 287.37h.5M228.88 272.38h.5M227.37 271.33h.5M224.72 270.87h.5M227.28 275.85h.5M214.1 289.35h.5M228.44 264.33h.5M231.67 269.76h.5M228.38 281.32h.5M227.88 270.59h.5M224.15 288.26h.5M229.56 271.77h.5M231.68 280.59h.5M230.73 278.44h.5M237.72 268.24h.5M235.19 271.7h.5M219.8 266.21h.5M210.79 294.2h.5M216.1 290.63h.5M243.8 244.97h.5M232.91 269.63h.5M215.72 270.55h.5M231.51 278.42h.5M226.19 272.95h.5M227.75 271.79h.5M236.15 277.75h.5M215.01 272.21h.5M231.58 264.76h.5M219.04 271.07h.5M224.39 272.02h.5M228.91 268.01h.5M217.87 283.79h.5M220.6 266.58h.5M226.84 277.05h.5M225.54 271.59h.5M229.35 266.1h.5M223.52 278.69h.5M223.93 271.27h.5M229.44 271.55h.5M236.89 269.19h.5M227.57 271.54h.5M220.81 279.24h.5M226.95 277.41h.5M234.8 268.9h.5M227.61 273.69h.5M243.18 267.6h.5M214.08 266.95h.5M226.85 262.97h.5M228.77 273.39h.5M237.39 261.5h.5M224.43 271.14h.5M225.48 266.18h.5M232.19 269.5h.5M235.94 262.05h.5M230.01 270.67h.5M223.96 269.22h.5M223.1 276.21h.5M233.78 272.29h.5M223.46 277.16h.5M234.14 270.87h.5M229.5 271.22h.5M224.63 274.66h.5M220.34 267.86h.5M214.57 269.16h.5M233.44 271.67h.5M224.97 275.22h.5M227.46 270.32h.5M237.22 261.6h.5M229.26 269.8h.5M236.67 253.26h.5M224.52 266.45h.5M218.97 273.94h.5M229.39 263.44h.5M218.76 277.96h.5M217.12 275.43h.5M236.58 259.3h.5M225.48 282.14h.5M231.16 275.25h.5M214.37 282.28h.5M231.26 269.67h.5M234.87 272.58h.5M234.74 271.82h.5M230.29 264.65h.5M232.51 275.15h.5M221.88 280.37h.5M235.81 272.29h.5M222.24 291.32h.5M215.83 282.73h.5M241.47 250.54h.5M244.35 257.81h.5M245.52 263.92h.5M225.87 268.57h.5M220.91 270.06h.5M218.26 282.81h.5M217.7 283.21h.5M226.23 272.22h.5M215.79 275.19h.5M230.03 263.62h.5M222.4 275.52h.5M238.14 274.05h.5M243.85 261.44h.5M234.05 269.78h.5M224.98 272.94h.5M216.23 285.76h.5M224.67 276.83h.5M246.09 259.79h.5M238.21 267.25h.5M221.06 273.85h.5M214.73 280.22h.5M230.45 273.35h.5M230.27 267.13h.5M219.01 280.05h.5M223.35 263.57h.5M223.4 266.87h.5M223.36 274.83h.5M218.37 277.22h.5M224.08 268.86h.5M234.07 269.72h.5M227.85 265.03h.5M224.66 272.46h.5M230.2 273.89h.5M223.29 275.88h.5M232.05 265.55h.5M232.23 267.26h.5M216.64 281.69h.5M226.83 269.87h.5M239.83 257.92h.5M215.88 281.67h.5M226.98 275.4h.5M245.91 255.48h.5M230.81 264.3h.5M218.04 276.29h.5M224.24 272.08h.5M225.01 270.15h.5M215.9 277.82h.5M229.17 263.15h.5M237.73 272.28h.5M222.99 281.48h.5M225.04 257.85h.5M235.25 268.55h.5M226.69 283.36h.5M217.98 288.62h.5M225.78 267.07h.5M223.11 266.5h.5M233.08 269.91h.5M240.26 268.5h.5M223.48 278.57h.5M213.61 266.94h.5M237.53 269.61h.5M233.93 276.45h.5M221.24 266.96h.5M222.77 274.48h.5M227.72 269.05h.5M206.85 283.4h.5M229.32 276.94h.5M218.11 272.48h.5M226.27 278.51h.5M233.06 260.53h.5M236 271.97h.5M229.4 263.19h.5M229.84 266.49h.5M229.16 282.05h.5M228.24 274.16h.5M240.92 269.35h.5M227.12 268.34h.5M224.52 270.35h.5M225.72 272.69h.5M213.63 279.82h.5M216.39 281.74h.5M235.07 269.18h.5M225.38 267.81h.5M222.27 268.21h.5M226.37 263.28h.5M227.56 282.3h.5M226.99 266.19h.5M222.21 270.34h.5M219.8 276.32h.5M221.33 278.66h.5M232.14 262.1h.5M217.63 275.94h.5M222.81 276.87h.5M219.34 273.92h.5M224.98 280.13h.5M237.25 269.06h.5M225.36 267.89h.5M243.79 270.18h.5M220.29 274.69h.5M237 267.1h.5M236.25 276.4h.5M223.16 270.85h.5M224.92 275.5h.5M232.16 275.06h.5M230.33 264.64h.5M231.72 266.61h.5M241.49 265.72h.5M224.27 278.13h.5M218.79 282.67h.5M228.88 273.23h.5M215.45 277.71h.5M222.12 275.32h.5M229.27 264.99h.5M210.44 284.21h.5M235.19 269.84h.5M219.56 283.1h.5M229.89 273.94h.5M232.03 275.21h.5M228.27 284.32h.5M231.34 260.88h.5M218.61 286.3h.5M212.97 280.37h.5M229.93 268.5h.5M221.31 264.14h.5M222.84 279.15h.5M243.34 259.45h.5M227.44 272.48h.5M236.22 267.45h.5M214.2 271.85h.5M223.84 272.62h.5M237.56 256.96h.5M226.15 260.54h.5M228.48 262.71h.5M226.31 271.44h.5M227.47 271.64h.5M220.12 282.13h.5M219.98 278.3h.5M220.3 278.09h.5M225.2 272.5h.5M224.54 281.81h.5M225.56 273.79h.5M212.36 289.34h.5M214.38 282.49h.5M217.38 292.66h.5M212.74 283.64h.5M208.23 276.77h.5M214.66 294.62h.5M247.06 253.9h.5M232.25 263.25h.5M222.88 290.75h.5M227.63 261.46h.5M224.84 273.42h.5M222.76 274.57h.5M219.02 277.78h.5M220.41 274.5h.5M224.84 286.75h.5M220.76 275.15h.5M228.49 270.66h.5M216.5 287.89h.5M210.9 279.57h.5M229.1 268.14h.5M218.76 278.66h.5M214.74 276.82h.5M208.75 276.34h.5M216.01 281.21h.5M219.95 276.21h.5M232.79 262.83h.5M207.49 288.58h.5M231.2 243.25h.5M218.36 269.24h.5M213.98 289.3h.5M225.04 272.88h.5M210.44 281.11h.5M220.76 289.7h.5M216.7 263.07h.5M228.6 282.8h.5M216.64 277.87h.5M226.95 275.6h.5M227.74 265.61h.5M224.78 279.28h.5M213.9 279.62h.5M227.94 268.72h.5M222.68 289.15h.5M226.02 269.93h.5M201.23 302.53h.5M234.67 264.69h.5M222.43 268.32h.5M249.53 260.32h.5M257.61 265.12h.5M210.35 291.02h.5M206.66 291.84h.5M223.79 269.55h.5M232.9 267.91h.5M221.47 274.18h.5M237.07 267.34h.5M235.74 267.15h.5M219.43 273.98h.5M225.32 267.11h.5M223 281.92h.5M227.26 269.71h.5M226.44 269.05h.5M238 260.88h.5M221.48 266.51h.5M213.63 271.95h.5M232.65 271.76h.5M230.81 265.66h.5M228.01 274h.5M215.33 267.32h.5M247.7 258.63h.5M238.49 269h.5M218.65 278.52h.5M225.66 282.03h.5M224.95 267.44h.5M240.86 283.57h.5M228 275.19h.5M243.16 250.45h.5M234.22 276.18h.5M230 264.22h.5M226.33 273.3h.5M240 269.6h.5M206.84 289.35h.5M220.16 280.09h.5M223.64 277.79h.5M212.14 286.18h.5M236.85 274.11h.5M241.79 259.49h.5M226.06 283.99h.5M231.47 270.93h.5M226.02 260.5h.5M213.65 275.61h.5M221.71 289.56h.5M207.25 287.16h.5M221.87 268.77h.5M226.63 265.17h.5M206.86 278.1h.5M238.07 259.33h.5M230.68 273.77h.5M227.5 265.29h.5M238.81 271.02h.5M215.7 288.45h.5M236.12 273.61h.5M231.69 266.72h.5M221.56 282.11h.5M232 271.33h.5M226.42 282.42h.5M240.2 270.14h.5M223.09 280.46h.5M230.64 257.76h.5M220.32 279.9h.5M211.76 284.12h.5M221.31 264.38h.5M232.37 267.61h.5M238.89 261.84h.5M221.43 276.39h.5M223.13 259.87h.5M226.66 278.64h.5M235.72 267.98h.5M215.34 281.13h.5M231.12 268.83h.5M236.02 280.44h.5M244 254.1h.5M217.23 280.62h.5M235.45 256.29h.5M211.96 274.22h.5M235.8 260.74h.5M232.74 281.06h.5M231.7 265.57h.5M218.56 288.7h.5M226.22 270.11h.5M226.17 266.84h.5M229.64 271.78h.5M216.98 282.73h.5M238.72 274.58h.5M244.33 275.46h.5M235.43 264.94h.5M230.48 269.62h.5M216.56 279.12h.5M224.12 265.94h.5M228.71 275.67h.5M243.04 257.88h.5M220.85 271.8h.5M213.28 288.57h.5M218.96 273.37h.5M221.95 288.84h.5M242.06 263.53h.5M218.38 269.47h.5M202.01 286.76h.5M225.25 286.2h.5M216.98 266.78h.5M243.1 263.92h.5M224.33 277.47h.5M231.25 264.87h.5M218.93 280.41h.5M235.04 269.89h.5M211.83 276.94h.5M224.01 269.71h.5M231.49 284.13h.5M209.32 284.78h.5M217.45 282.21h.5M246.85 258.78h.5M235.83 257.11h.5M235.22 276.87h.5M219.98 271.72h.5M217.71 292.34h.5M231.12 280.24h.5M228.81 271.1h.5M235.63 266.77h.5M235.95 259.78h.5M221.14 277.48h.5M220.81 275.69h.5M236.23 267.45h.5M232.97 281.87h.5M211.05 280.71h.5M228.84 278.87h.5M234.94 270h.5M241.03 259.75h.5M224.27 284.6h.5M237.86 254.73h.5M220.39 276.85h.5M230.62 270.08h.5M227.35 258.42h.5M215.24 269.02h.5M239.1 270.54h.5M229.09 270.45h.5M225.27 272.83h.5M220.6 281.57h.5M229.99 263.81h.5M236.72 276.23h.5M251.8 270.76h.5M247.57 242.57h.5M220.08 274.25h.5M237.59 276.01h.5M214.5 287.52h.5M235.02 276h.5M228.8 265.06h.5M227.28 267.76h.5M223.98 272.48h.5M228.26 274.3h.5M235.34 274.93h.5M226.33 258.26h.5M231.3 265.17h.5M234.51 262.36h.5M212.71 272.32h.5M228.74 277.45h.5M219.62 281.31h.5M215.54 264.83h.5M223.71 272.56h.5M224.68 260.16h.5M232.62 266.81h.5M233.92 262.79h.5M219.24 276.65h.5M230.77 277.8h.5M218.2 276.93h.5M215.14 279.09h.5M235.19 277.22h.5M226.39 274.69h.5M231.43 277.23h.5M222.66 273.57h.5M228.5 268.61h.5M228.43 270.21h.5M226.83 279.4h.5M222.91 272.25h.5M238.91 277.33h.5M228.75 269.2h.5M236.11 268.93h.5M244.53 261.39h.5M254.84 246.6h.5M247.15 257.16h.5M250.33 252.77h.5M252.7 244.15h.5M246.17 257.53h.5M249.7 250.44h.5M240.08 264.96h.5M253.74 250.1h.5M252.06 255.03h.5M259.71 240.79h.5M244.42 248.92h.5M243.34 262.3h.5M242.16 249.83h.5M243.31 263.6h.5M253.31 254.85h.5M256.19 245.44h.5M246.93 252.28h.5M244.55 260.45h.5M248.11 251.1h.5M237.72 260.36h.5M244.89 253.54h.5M253.62 251.85h.5M253.01 254.97h.5M246.09 255.29h.5M258.38 242.39h.5M251.11 254.61h.5M249.31 252.71h.5M252.6 253.68h.5M248.56 252.4h.5M237.62 260.89h.5M242.02 255.54h.5M240.03 255.03h.5M243.5 257.84h.5M238.14 256.28h.5M256.57 250.65h.5M245.5 257.13h.5M247.61 255.67h.5M249.1 248.48h.5M238.64 264.53h.5M249.06 249.58h.5M256.24 248.68h.5M251.55 256.74h.5M258.65 249.93h.5M249.24 250.97h.5M248.31 252.12h.5M254.7 252.86h.5M250.38 256.19h.5M243.59 262.45h.5M245.91 247.3h.5M249.86 255.69h.5M249.2 249.47h.5M254.79 251.87h.5M251.39 257.09h.5M245.76 257.11h.5M243.95 248.61h.5M251.47 253.59h.5M244.47 256.76h.5M253.65 248.56h.5M252.12 251.99h.5M250.37 255.17h.5M236 258.13h.5M243.58 260.57h.5M254.04 248.02h.5M242.02 264.31h.5M243.48 253.74h.5M248.4 250.87h.5M252.33 252.36h.5M245.62 262.8h.5M248.71 255.03h.5M258.46 250.43h.5M233.43 265.26h.5M247.29 256.51h.5M255.08 254.64h.5M236.53 262.77h.5M253.75 248.01h.5M259.76 249.09h.5M251.98 247.32h.5M237.21 261.03h.5M247.56 254.99h.5M253.8 248.24h.5M244.98 263.49h.5M252.1 248.36h.5M239.28 245.15h.5M240.76 259.14h.5M250.54 251.2h.5M245.56 253.29h.5M246.43 261.56h.5M261.7 247.49h.5M240.91 250.44h.5M250.35 247.68h.5M246.34 256.35h.5M254.96 244.88h.5M247.4 257.5h.5M252.79 249.48h.5M251.28 254.03h.5M241.72 251.76h.5M249.96 258.56h.5M239.18 257.39h.5M256.29 253.56h.5M250.79 252.98h.5M235.23 258.74h.5M240.11 252.75h.5M251.09 246.82h.5M259.54 240.01h.5M248.79 251.43h.5M248.57 257.86h.5M241.03 258.14h.5M252.77 246.59h.5M260.96 238.17h.5M253.12 250.89h.5M250.64 251.74h.5M246.16 257.14h.5M242.8 254.18h.5M254.58 241.04h.5M250.67 249.58h.5M231.09 257.27h.5M243.39 259.64h.5M255.52 247.8h.5M255.72 248.33h.5M249.5 253.64h.5M252.86 245.49h.5M239.36 266.23h.5M248.98 254.51h.5M255.21 250.02h.5M250.49 258.04h.5M254.17 248.3h.5M248.62 251.78h.5M245.97 252.84h.5M250.65 247.94h.5M245.76 258.86h.5M252.33 257.08h.5M244.85 256.66h.5M248.86 257.23h.5M248.5 255.97h.5M238.14 259.7h.5M257.09 247.05h.5M252.41 255.08h.5M248.25 250.65h.5M248.66 252.01h.5M247.99 254.24h.5M255.6 253.23h.5M255.53 244.98h.5M252.22 256.13h.5M243.66 254.98h.5M260.36 247.53h.5M252.13 249.21h.5M258.48 250.26h.5M249.25 254.24h.5M251.87 250.82h.5M251.48 257.21h.5M243.64 251.65h.5M257.98 253.72h.5M246.3 257.37h.5M247.66 251.43h.5M244.61 258.11h.5M238.69 262.36h.5M236.43 262.89h.5M243.11 258.99h.5M245.62 255.24h.5M249.88 254.48h.5M251.44 254.17h.5M258.19 254.06h.5M252.8 251.15h.5M256.29 249.7h.5M251.96 247.51h.5M242.31 263.01h.5M238.55 257.67h.5M245.77 252.63h.5M253.23 251.4h.5M253.64 256.06h.5M248.61 252.3h.5M240.36 257.59h.5M244.36 257.84h.5M258.47 245.57h.5M245.68 248.29h.5M257.16 242.97h.5M246.9 248.95h.5M253.44 250.4h.5M245.86 261.78h.5M257.98 247.49h.5M246.02 256.44h.5M245.74 258.03h.5M244.49 253.98h.5M251.99 258.3h.5M241.92 262.95h.5M253.2 252.92h.5M251.34 254.12h.5M235.93 263.16h.5M235.88 263.27h.5M247.49 255.66h.5M249.15 250.23h.5M248.47 259.54h.5M255.26 248.25h.5M243.6 257.19h.5M253.83 250.98h.5M252.13 255.71h.5M252.21 253.01h.5M248.23 254.72h.5M247.85 250.47h.5M242.39 252.04h.5M244.28 252.07h.5M253.22 255.18h.5M246.89 257.59h.5M250.51 244.72h.5M252.11 243.66h.5M236.92 257.78h.5M236.18 257.05h.5M250.44 254.53h.5M254.02 251.54h.5M255.36 247.71h.5M248.92 258.94h.5M246.97 259.79h.5M243.72 250.96h.5M241.77 256.71h.5M249.87 254.11h.5M253.57 251.9h.5M251.46 244.57h.5M254.21 255.33h.5M245.5 258.83h.5M252.83 247.07h.5M234.1 261.8h.5M248.4 256.99h.5M252.78 252.46h.5M246.8 253.51h.5M244.53 256.68h.5M246.05 255.45h.5M242.46 254.48h.5M249.76 250.36h.5M254.73 253.02h.5M246.74 264.11h.5M237.8 255.58h.5M238.91 257.3h.5M250.33 257.08h.5M252.91 255.99h.5M236.85 265.68h.5M238.36 257.78h.5M264.95 248.02h.5M247.1 251.63h.5M241.6 253.3h.5M246.73 257.81h.5M251.21 252.55h.5M246.66 257.74h.5M255.43 256.16h.5M251.54 255.1h.5M253.99 252h.5M252.09 251.88h.5M250.87 247.52h.5M241.21 255.76h.5M244.51 255.31h.5M255.99 249.1h.5M248.5 254.33h.5M250.88 247.33h.5M246.6 251.73h.5M254.76 255.22h.5M251.42 254.42h.5M255.35 246.34h.5M246.84 247.53h.5M250.85 253.02h.5M252.12 259.72h.5M249.7 251.49h.5M245.94 255.36h.5M237.89 263.26h.5M244.14 258.04h.5M255.07 255h.5M246.55 255.03h.5M249.44 254.58h.5M245.16 256.89h.5M245.95 256.93h.5M257.68 246.38h.5M257.78 248.01h.5M258.29 250.4h.5M237.56 259.24h.5M239.89 262.42h.5M243.85 261.45h.5M248.66 255.69h.5M238.45 252.66h.5M243.88 255.31h.5M250.31 254.91h.5M243.12 259.1h.5M247.46 259.51h.5M244.65 257.52h.5M256.6 250.22h.5M255.2 252.96h.5M253.78 252.09h.5M246.73 262.26h.5M258.35 252.88h.5M247.47 256.95h.5M235.94 263.86h.5M244.12 255.9h.5M251.11 250.52h.5M248.21 247.46h.5M260.43 241.11h.5M240.26 255.24h.5M249.63 245.06h.5M246.53 261.87h.5M239.43 258.29h.5M244.46 260.8h.5M244.61 257.83h.5M243.77 255.38h.5M238.26 264.09h.5M246.5 253.44h.5M250.28 251.76h.5M248.74 254.46h.5M249.82 249.88h.5M253.58 251.34h.5M243.34 254.91h.5M253.77 250.03h.5M238.86 255.83h.5M258.33 241.72h.5M243.34 256.94h.5M245.23 263.47h.5M240.95 255.65h.5M247.64 250.41h.5M243.3 260.83h.5M256.85 253.2h.5M246.78 251.58h.5M243.73 254.03h.5M249.07 253.95h.5M247.27 257.91h.5M249.43 248.21h.5M255.46 245.49h.5M248.81 257.6h.5M250 250.29h.5M251.03 253.99h.5M237.72 251.6h.5M253.73 243.83h.5M251.01 261.03h.5M246.33 258.28h.5M245.82 263.66h.5M246.14 261.94h.5M251.58 257.91h.5M253.06 248.06h.5M240.37 252.93h.5M251.63 256.89h.5M248 255.45h.5M255.72 250.41h.5M254.1 251.99h.5M242.96 254.81h.5M246.94 252.09h.5M246.07 249.31h.5M251.83 255.27h.5M256.67 247.51h.5M257.16 256.58h.5M256.56 248.98h.5M243.98 259.38h.5M248.6 249.6h.5M240.34 252.47h.5M251.8 245.85h.5M260.59 243.13h.5M245.36 256.72h.5M251.19 253.09h.5M242.28 254.17h.5M244.61 256.81h.5M245.11 258.17h.5M255.18 250.07h.5M251.23 254.99h.5M243.29 259.34h.5M253.33 256.42h.5M255.04 246.95h.5M257.14 242.87h.5M257.75 247.51h.5M252.54 250.16h.5M244.5 251.52h.5M254.6 248.09h.5M251.12 248.41h.5M255.56 249.78h.5M246.81 255.89h.5M247.9 256.56h.5M255.77 242.97h.5M234.48 262.44h.5M242.68 261.63h.5M236.66 252.95h.5M244.96 253.25h.5M236.95 261.26h.5M247.53 251.38h.5M254.16 247.63h.5M249.34 243.83h.5M248.69 251.33h.5M245.64 256.43h.5M249.48 254.7h.5M248.98 255.08h.5M240.4 249.73h.5M242.05 250.89h.5M241.67 255.45h.5M246.76 255.33h.5M246.98 252.61h.5M250.56 249.97h.5M240.43 261.04h.5M242.66 259.55h.5M258.68 245.53h.5M255.09 253.53h.5M246.03 252.17h.5M255.21 251.65h.5M244.63 259.46h.5M245.89 254.18h.5M236.23 259.27h.5M247.87 247.98h.5M251.86 254.12h.5M244.98 266.68h.5M250.53 247.88h.5M252.21 256.97h.5M259.44 240.38h.5M250.87 250.05h.5M256.81 246.4h.5M247.98 251.83h.5M257.91 242.74h.5M241.5 253.52h.5M242.33 256.93h.5M248.68 247.44h.5M243.14 252.65h.5M248.49 249.55h.5M246.17 249.13h.5M252.28 248.54h.5M251.54 250.39h.5M240.77 259.1h.5M255.37 246.35h.5M247.52 256.59h.5M242.42 258.67h.5M246.76 258.41h.5M239.48 256.41h.5M250.83 252.99h.5M245.32 251.64h.5M248.38 251.43h.5M252.06 246.01h.5M235.06 257.46h.5M254.16 253.86h.5M251.19 251.35h.5M251.22 258.14h.5M250.96 258.38h.5M250.86 251.78h.5M243.2 255.47h.5M245.02 250.35h.5M246.16 254.99h.5M246.12 256.51h.5M244.01 258.48h.5M250.76 255h.5M251.72 250.06h.5M248.55 251.87h.5M242.64 254.89h.5M245.76 257.16h.5M244.67 253.48h.5M244.7 258.69h.5M243.82 256.98h.5M255.98 254.36h.5M238.42 256.36h.5M245.78 252.39h.5M254.37 247.44h.5M256.21 247.64h.5M247.5 253.18h.5M243.89 253.59h.5M252.95 254.44h.5M243.41 250.12h.5M253.01 248.21h.5M257 251.31h.5M242.9 261.32h.5M240.92 257.82h.5M239.41 256.07h.5M254.26 247.26h.5M244.22 260.8h.5M253.11 249.55h.5M250.3 252.33h.5M250.09 243h.5M245.24 256.76h.5M249.32 257.64h.5M245.52 250.38h.5M252.08 240.63h.5M247.3 258h.5M264.66 245.55h.5M252.38 248.79h.5M256.54 244.7h.5M245.78 249.07h.5M243 253.09h.5M249.82 256.78h.5M246.61 260.12h.5M252.02 258.89h.5M246.68 256.42h.5M232.54 268.36h.5M243.11 255.05h.5M250.13 252.92h.5M259.61 250.21h.5M239.69 257.34h.5M254.35 249.71h.5M251.28 258.56h.5M245.42 257.84h.5M249.61 252.66h.5M257.03 250.39h.5M251.02 249.4h.5M247.86 256.44h.5M240.42 261.38h.5M247.37 254.71h.5M247.45 259.81h.5M248.17 259.8h.5M253.63 248.57h.5M249.23 252.96h.5M248.49 255.15h.5M248.16 250.26h.5M248.29 256.51h.5M247.7 253.72h.5M246.47 253.57h.5M254.31 246.71h.5M246.43 255.43h.5M254.23 249.46h.5M244.02 251.08h.5M243.17 256.86h.5M245.9 249.97h.5M246.62 247.11h.5M250.34 250.63h.5M240.91 252.8h.5M242.04 255.06h.5M245.47 255.57h.5M240.54 253.11h.5M250.37 249.37h.5M251.8 248.53h.5M249.61 246.05h.5M241.66 261.63h.5M235.48 260.69h.5M251.34 251.57h.5M259.32 245.05h.5M256.67 247.18h.5M257.69 246.18h.5M255.03 254.25h.5M258.68 241.28h.5M235.52 257.58h.5M248.45 252.82h.5M256.29 256.81h.5M253.11 249.51h.5M258.79 247.94h.5M233.34 269.42h.5M248.7 251.77h.5M240.63 258.64h.5M261.27 244.18h.5M243.63 259.35h.5M242.23 262.83h.5M251.46 250.58h.5M250.09 248.01h.5M246.18 255.2h.5M252.9 258.51h.5M249.51 248.64h.5M245.9 252.81h.5M247.77 247.53h.5M252.63 247.92h.5M255.78 253.35h.5M251.4 246.19h.5M241.84 251.82h.5M245.16 254.82h.5M254.46 249.21h.5M249.12 250.16h.5M242.12 257.56h.5M238.91 258.04h.5M247.11 263.7h.5M251.75 268.46h.5M253.22 249.23h.5M254.87 261.61h.5M236.53 269.19h.5M261.95 247.38h.5M230.8 257.87h.5M250.99 254.07h.5M251.13 243.44h.5M252.23 261.54h.5M248.64 248.5h.5M244.18 255.5h.5M244.01 257.28h.5M249.51 256.88h.5M244.68 254.93h.5M243.67 263.01h.5M253.43 250.55h.5M249.82 261.8h.5M240.69 242.03h.5M243.83 257.05h.5M247.58 253.24h.5M241.38 262.32h.5M247.83 249.3h.5M246.44 256.56h.5M254.64 272.05h.5M249.97 254.45h.5M236.82 256.88h.5M250.08 257.57h.5M241.38 257.13h.5M245.95 260.6h.5M250.74 243.51h.5M249.37 248.49h.5M241.83 264.49h.5M262.35 261.35h.5M254.71 262.7h.5M243.33 255.25h.5M251.46 245.55h.5M250.72 258.52h.5M234.69 266.51h.5M246.92 242.32h.5M241.66 262.96h.5M238.96 255.37h.5M237.77 273.63h.5M248.57 252.83h.5M247.27 257.44h.5M247.28 257.89h.5M252.71 248.18h.5M252.64 257.51h.5M240.75 256.47h.5M252.02 254.01h.5M240.39 260.17h.5M243.73 263.67h.5M248.73 250.98h.5M253.23 258.92h.5M238.41 252.61h.5M251.9 265h.5M259.31 247.41h.5M250.77 257.66h.5M268.31 252.82h.5M235.32 273.9h.5M252.28 249.43h.5M246.37 252.39h.5M226.3 268.06h.5M239.65 250.07h.5M246.38 254.87h.5M247.71 252.84h.5M236.88 266.88h.5M236.75 253.98h.5M253.61 250.3h.5M261.71 249.5h.5M230.53 276.01h.5M240.15 259.38h.5M242.21 253.6h.5M250.82 250.19h.5M241.01 258.72h.5M249.37 250.01h.5M249.28 256.38h.5M261.4 241.44h.5M244.79 259.45h.5M252.99 260.13h.5M252.3 253.81h.5M258.59 250.48h.5M253.16 255.99h.5M253.31 246.75h.5M252.99 262.88h.5M247.34 244.86h.5M252.35 250.22h.5M238.4 257.72h.5M247.05 252.58h.5M262.89 241.93h.5M249.43 262.08h.5M236.46 260.35h.5M243.76 259.54h.5M255.39 245.86h.5M257.05 243.51h.5M250.2 258.38h.5M252.58 256.94h.5M251.89 261.29h.5M254.11 257.81h.5M237.59 250.83h.5M232.34 272.38h.5M243.26 268.07h.5M245.29 242.74h.5M230.96 264.27h.5M246.64 251.06h.5M241.01 248.91h.5M242.96 263.65h.5M238.51 263.62h.5M222 268.23h.5M240.62 248.47h.5M224.64 263.68h.5M249.34 258.66h.5M253.3 243.93h.5M261.87 248.86h.5M240.61 253.31h.5M246.2 261.36h.5M248.61 254.55h.5M247.06 254.74h.5M246.55 257.33h.5M237.19 253.05h.5M236.47 264.86h.5M264.19 245.68h.5M254.95 258.13h.5M239.51 266.22h.5M254.66 247.54h.5M251.5 257.5h.5M249.01 261.75h.5M262.48 234.97h.5M235.41 253.29h.5M252.2 252.03h.5M262.62 258.78h.5M248.64 242.12h.5M244.58 262.4h.5M250.73 252.71h.5M239.34 258.11h.5M264.09 246.59h.5M234.34 259.37h.5M243.15 256.67h.5M245.77 259.06h.5M252.22 261.96h.5M244.28 254.02h.5M245.42 256.18h.5M237.93 251.46h.5M245.36 269.07h.5M246.87 264.25h.5M254.34 260.03h.5M241.93 255.17h.5M240.83 255.86h.5M248.23 266.36h.5M265.55 240.16h.5M248.97 254.46h.5M251.13 255.85h.5M255.51 258.77h.5M250.23 247.66h.5M249.47 248.03h.5M257.24 250.52h.5M252.34 249.57h.5M231.21 263.34h.5M246.17 249.67h.5M252.15 260.67h.5M243.67 262.54h.5M246.71 253.2h.5M247.75 258.1h.5M241.38 258.02h.5M233.07 253.13h.5M256.26 243.2h.5M254.01 250.36h.5M254.68 249.92h.5M237.6 279.36h.5M220.99 279.81h.5M218.26 278.67h.5M225.61 278.89h.5M231.89 274.84h.5M221.02 269.53h.5M216.35 274.42h.5M214.82 281.69h.5M218.9 275.4h.5M220.24 270.95h.5M203.25 284.53h.5M217.69 282.22h.5M220.55 276.88h.5M220.53 283.25h.5M210.11 285.67h.5M217.96 280.08h.5M229.4 281.26h.5M227.9 273.77h.5M214.07 278.26h.5M232.67 271.68h.5M196.52 280h.5M208.69 274.88h.5M216.71 284.24h.5M210.52 276.48h.5M205.19 288.93h.5M217.54 272.67h.5M225.75 276.44h.5M228.56 275.26h.5M223.22 280.65h.5M213.68 270.31h.5M215.3 282.21h.5M230.71 265.51h.5M221.42 262.04h.5M225.64 284.15h.5M219.74 278.14h.5M227.41 280.21h.5M224.63 273.03h.5M227.84 284.41h.5M219.17 276.17h.5M220.35 285.03h.5M224.26 270.35h.5M211.83 283.31h.5M217.29 267.2h.5M222.68 289.86h.5M218.39 281.55h.5M221.27 276.18h.5M207.99 277.37h.5M224.35 275.92h.5M217.3 281.91h.5M208.01 272.84h.5M209.07 285.02h.5M224.27 277.24h.5M202.54 287.65h.5M221.18 279.32h.5M216.46 279.94h.5M231.46 267.76h.5M223.32 287.74h.5M214.56 283.39h.5M228.6 268.25h.5M240.61 260.61h.5M253.95 281.51h.5M248.92 284.18h.5M250.24 276.71h.5M245.56 272.24h.5M248.39 258.99h.5M249.6 267.54h.5M248.02 275.41h.5M250.71 276.72h.5M258.04 274.31h.5M237 272.26h.5M247.47 277.51h.5M250.92 268.4h.5M242.17 278.47h.5M243.46 267.71h.5M248.08 261.93h.5M246.97 273.39h.5M250.96 268.58h.5M242.54 263.01h.5M250.21 260.07h.5M246.62 266.8h.5M238.52 273.01h.5M243.35 283.18h.5M242.34 267.17h.5M243.53 262.03h.5M247.44 271.97h.5M252.65 275.75h.5M255.15 278.61h.5M242.14 279.9h.5M241.4 264.5h.5M241.31 265.11h.5M244.8 265.41h.5M247.39 261.58h.5M243.16 270.43h.5M253.01 270.14h.5M251.24 271.97h.5M252.6 273h.5M247.67 284.47h.5M246.94 264.88h.5M245.99 274.59h.5M240.73 268.19h.5" stroke="#000" stroke-width="0.55" fill="none"/>
<path d="M166.5 217.4V320.1H269.6V217.4" fill="none" stroke="#555" stroke-width="0.8"/>
<path d="M166.5 217.4H269.6" fill="none" stroke="#555" stroke-width="0.8"/>
<path d="M236.8 217.4V320.1M166.5 260.6H269.6" stroke="#333" stroke-width="1"/>
<text x="224.2" y="209.5" text-anchor="middle" style="font-family:'Liberation Serif',serif;stroke:#000;stroke-width:0.1px;font-size:10.2px">10 μM</text>
<text x="167.9" y="225.3" style="font-family:'Liberation Sans',sans-serif;font-size:4.5px;fill:#222">Q1</text><text x="167.9" y="231.4" style="font-family:'Liberation Sans',sans-serif;font-size:4.5px;fill:#222">0.068</text>
<text x="260.3" y="225.3" text-anchor="end" style="font-family:'Liberation Sans',sans-serif;font-size:4.5px;fill:#222">Q2</text><text x="260.3" y="231.4" text-anchor="end" style="font-family:'Liberation Sans',sans-serif;font-size:4.5px;fill:#222">5.50</text>
<text x="167.9" y="309.4" style="font-family:'Liberation Sans',sans-serif;font-size:4.5px;fill:#222">Q4</text><text x="167.9" y="315.1" style="font-family:'Liberation Sans',sans-serif;font-size:4.5px;fill:#222">87.9</text>
<text x="260.3" y="309.4" text-anchor="end" style="font-family:'Liberation Sans',sans-serif;font-size:4.5px;fill:#222">Q3</text><text x="260.3" y="315.1" text-anchor="end" style="font-family:'Liberation Sans',sans-serif;font-size:4.5px;fill:#222">6.54</text>
<ellipse cx="227" cy="272.3" rx="13.2" ry="4.9" transform="rotate(-43 227 272.3)" fill="#000"/><ellipse cx="221.2" cy="277.3" rx="6.5" ry="5.5" transform="rotate(-43 221.2 277.3)" fill="#000"/>
<path d="M286.9 316.2H289.3M288 312.17H289.3M288 309.81H289.3M288 308.13H289.3M288 306.83H289.3M288 305.77H289.3M288 304.88H289.3M288 304.1H289.3M288 303.41H289.3M286.9 302.8H289.3M288 298.77H289.3M288 296.41H289.3M288 294.73H289.3M288 293.43H289.3M288 292.37H289.3M288 291.48H289.3M288 290.7H289.3M288 290.01H289.3M286.9 289.4H289.3M288 285.37H289.3M288 283.01H289.3M288 281.33H289.3M288 280.03H289.3M288 278.97H289.3M288 278.08H289.3M288 277.3H289.3M288 276.61H289.3M286.9 276H289.3M288 271.97H289.3M288 269.61H289.3M288 267.93H289.3M288 266.63H289.3M288 265.57H289.3M288 264.68H289.3M288 263.9H289.3M288 263.21H289.3M286.9 262.6H289.3M288 258.57H289.3M288 256.21H289.3M288 254.53H289.3M288 253.23H289.3M288 252.17H289.3M288 251.28H289.3M288 250.5H289.3M288 249.81H289.3M286.9 249.2H289.3M288 245.17H289.3M288 242.81H289.3M288 241.13H289.3M288 239.83H289.3M288 238.77H289.3M288 237.88H289.3M288 237.1H289.3M288 236.41H289.3M286.9 235.8H289.3M288 231.77H289.3M288 229.41H289.3M288 227.73H289.3M288 226.43H289.3M288 225.37H289.3M288 224.48H289.3M288 223.7H289.3M288 223.01H289.3M286.9 222.4H289.3M293.9 319V321.4M297.93 319V320.3M300.29 319V320.3M301.97 319V320.3M303.27 319V320.3M304.33 319V320.3M305.22 319V320.3M306 319V320.3M306.69 319V320.3M307.3 319V321.4M311.33 319V320.3M313.69 319V320.3M315.37 319V320.3M316.67 319V320.3M317.73 319V320.3M318.62 319V320.3M319.4 319V320.3M320.09 319V320.3M320.7 319V321.4M324.73 319V320.3M327.09 319V320.3M328.77 319V320.3M330.07 319V320.3M331.13 319V320.3M332.02 319V320.3M332.8 319V320.3M333.49 319V320.3M334.1 319V321.4M338.13 319V320.3M340.49 319V320.3M342.17 319V320.3M343.47 319V320.3M344.53 319V320.3M345.42 319V320.3M346.2 319V320.3M346.89 319V320.3M347.5 319V321.4M351.53 319V320.3M353.89 319V320.3M355.57 319V320.3M356.87 319V320.3M357.93 319V320.3M358.82 319V320.3M359.6 319V320.3M360.29 319V320.3M360.9 319V321.4M364.93 319V320.3M367.29 319V320.3M368.97 319V320.3M370.27 319V320.3M371.33 319V320.3M372.22 319V320.3M373 319V320.3M373.69 319V320.3M374.3 319V321.4M378.33 319V320.3M380.69 319V320.3M382.37 319V320.3M383.67 319V320.3M384.73 319V320.3M385.62 319V320.3M386.4 319V320.3M387.09 319V320.3M387.7 319V321.4" stroke="#000" stroke-width="0.6" fill="none"/>
<text x="281" y="317.8" text-anchor="middle" style="font-family:'Liberation Sans',sans-serif;font-size:3.6px;fill:#222">10<tspan dy="-1.7" dx="0.5" style="font-size:3px">0</tspan></text>
<text x="281" y="304.4" text-anchor="middle" style="font-family:'Liberation Sans',sans-serif;font-size:3.6px;fill:#222">10<tspan dy="-1.7" dx="0.5" style="font-size:3px">1</tspan></text>
<text x="281" y="291" text-anchor="middle" style="font-family:'Liberation Sans',sans-serif;font-size:3.6px;fill:#222">10<tspan dy="-1.7" dx="0.5" style="font-size:3px">2</tspan></text>
<text x="281" y="277.6" text-anchor="middle" style="font-family:'Liberation Sans',sans-serif;font-size:3.6px;fill:#222">10<tspan dy="-1.7" dx="0.5" style="font-size:3px">3</tspan></text>
<text x="281" y="264.2" text-anchor="middle" style="font-family:'Liberation Sans',sans-serif;font-size:3.6px;fill:#222">10<tspan dy="-1.7" dx="0.5" style="font-size:3px">4</tspan></text>
<text x="281" y="250.8" text-anchor="middle" style="font-family:'Liberation Sans',sans-serif;font-size:3.6px;fill:#222">10<tspan dy="-1.7" dx="0.5" style="font-size:3px">5</tspan></text>
<text x="281" y="237.4" text-anchor="middle" style="font-family:'Liberation Sans',sans-serif;font-size:3.6px;fill:#222">10<tspan dy="-1.7" dx="0.5" style="font-size:3px">6</tspan></text>
<text x="281" y="224" text-anchor="middle" style="font-family:'Liberation Sans',sans-serif;font-size:3.6px;fill:#222">10<tspan dy="-1.7" dx="0.5" style="font-size:3px">7</tspan></text>
<text x="294.7" y="327.4" text-anchor="middle" style="font-family:'Liberation Sans',sans-serif;font-size:3.6px;fill:#222">10<tspan dy="-1.7" dx="0.5" style="font-size:3px">0</tspan></text>
<text x="321.5" y="327.4" text-anchor="middle" style="font-family:'Liberation Sans',sans-serif;font-size:3.6px;fill:#222">10<tspan dy="-1.7" dx="0.5" style="font-size:3px">2</tspan></text>
<text x="348.3" y="327.4" text-anchor="middle" style="font-family:'Liberation Sans',sans-serif;font-size:3.6px;fill:#222">10<tspan dy="-1.7" dx="0.5" style="font-size:3px">4</tspan></text>
<text x="375.1" y="327.4" text-anchor="middle" style="font-family:'Liberation Sans',sans-serif;font-size:3.6px;fill:#222">10<tspan dy="-1.7" dx="0.5" style="font-size:3px">6</tspan></text>
<path d="M351.61 276.33h.5M341.23 270.9h.5M353.22 272.45h.5M354.21 271.55h.5M348.8 270.87h.5M344.49 274.71h.5M349.24 275.98h.5M353.84 265.74h.5M356.35 268.59h.5M361.96 270.68h.5M352.65 264.63h.5M353.75 264.76h.5M362.32 262.96h.5M352.28 277.43h.5M337.18 279.88h.5M341.78 275.31h.5M345.77 277.21h.5M349.17 274.07h.5M353.48 264.38h.5M361.69 264.77h.5M336.96 277.6h.5M359.45 270.45h.5M345.77 275.19h.5M354.52 273.42h.5M351.48 274.99h.5M342.91 273.96h.5M357.44 270.65h.5M351.62 273.6h.5M353.89 272.86h.5M361.1 267.82h.5M356.99 266.98h.5M343.06 268.11h.5M354.37 269.99h.5M352.45 264.38h.5M346.37 272.53h.5M338.13 282.46h.5M358.84 262.8h.5M357.26 274.31h.5M342.95 279.97h.5M366.57 269.43h.5M338.61 275.22h.5M354.59 274.01h.5M339.92 275.57h.5M343.9 279.84h.5M347.51 275.87h.5M358.01 271.89h.5M354.94 270.75h.5M361.06 267.71h.5M340.19 276.16h.5M358.53 267.98h.5M348.65 274.05h.5M377.48 256.36h.5M355.65 270.77h.5M350.76 276.2h.5M358.55 268.89h.5M342.22 281.37h.5M357.08 268.02h.5M329.47 284.05h.5M341.03 276.77h.5M345.73 271.92h.5M359.36 267.4h.5M359.48 263.5h.5M351.66 276.3h.5M352.57 268.34h.5M343.04 274.31h.5M351.47 274h.5M353.41 273.12h.5M357.98 268.22h.5M362.54 267.79h.5M349.35 272.19h.5M349.79 269.89h.5M340.39 278.08h.5M347.87 275.71h.5M346.44 274.8h.5M351.93 269.61h.5M351.49 268.96h.5M348.86 275.9h.5M354.16 269.98h.5M345.83 277.27h.5M363.67 256.76h.5M359.79 267.51h.5M361.63 269.82h.5M345.58 281.12h.5M345.91 273.86h.5M355.92 268.66h.5M352.37 269.18h.5M342.74 276.63h.5M344.35 280.42h.5M355.13 274.41h.5M337.83 272.01h.5M332.18 281.32h.5M341.24 278.71h.5M337.2 274.84h.5M352.64 269.45h.5M357.68 270.82h.5M351.97 266.91h.5M347.55 281.84h.5M349.63 273.63h.5M351.95 271.15h.5M348.76 271.09h.5M343.76 268.81h.5M364.18 263.8h.5M341.29 279.24h.5M354.11 264.86h.5M349.14 278.18h.5M355.99 270.43h.5M358.76 266.85h.5M351.09 277.4h.5M349.4 272.44h.5M356.15 268.94h.5M344.04 282.54h.5M353.18 276.91h.5M353.66 267.03h.5M363.08 264.2h.5M344.08 275.69h.5M334.48 282.77h.5M344.79 274.49h.5M344.91 277.71h.5M355.52 273.02h.5M364.72 264.87h.5M352.2 272.18h.5M343.65 274.09h.5M355.7 266.03h.5M334.97 279.8h.5M355.29 274.53h.5M343.84 272.61h.5M351.51 270.94h.5M352.18 269.28h.5M351.67 269.34h.5M359.25 268.01h.5M354.85 268h.5M339.55 278.44h.5M352.22 274.97h.5M358.6 267.26h.5M349.07 269.38h.5M350.94 272.56h.5M345.98 270.84h.5M359.72 263.47h.5M365.91 267.34h.5M361.92 262.47h.5M353.78 265.25h.5M345.71 269.43h.5M344.32 273.84h.5M360.18 270.27h.5M347.53 272.76h.5M341.67 273.11h.5M336.38 279.43h.5M354.41 267.07h.5M352.01 267.1h.5M342.07 275.01h.5M357.05 266.4h.5M356.37 267.4h.5M339 271.59h.5M345.61 271.46h.5M358.66 268.86h.5M339.14 281.53h.5M350.6 261.75h.5M342.91 277.24h.5M337.09 277.19h.5M355.26 270.12h.5M355.26 271.4h.5M347.43 282.14h.5M358.13 275.09h.5M349.52 274.53h.5M353.22 269.9h.5M353.62 271.1h.5M357.64 268.99h.5M351.93 272.87h.5M362.24 265.46h.5M355.72 269.46h.5M333.94 278.4h.5M341.42 272.37h.5M343.19 270.04h.5M352.03 269.22h.5M360.93 267.3h.5M340.39 277.05h.5M350.05 269.87h.5M346.24 270.66h.5M345.39 275.89h.5M349.91 276.52h.5M332.9 279.36h.5M350.01 277.39h.5M360.53 268.8h.5M360.7 271.61h.5M355.58 268.2h.5M350.98 269.16h.5M349.42 273.86h.5M346.84 274.41h.5M345.23 270.4h.5M340.39 280.17h.5M352.07 273.9h.5M349.75 272.31h.5M352.12 269.81h.5M362.81 268.28h.5M352.05 267.38h.5M346.63 274.84h.5M359.46 266.57h.5M351.03 273.39h.5M351.11 270.98h.5M343.47 280.17h.5M349.21 270.81h.5M347.57 268.95h.5M334.59 274.85h.5M351.24 266.82h.5M349.4 268.35h.5M335.49 278.34h.5M343.47 273.48h.5M363.99 264.71h.5M346.91 276.88h.5M349.54 276.55h.5M339.66 281.8h.5M340.66 274.92h.5M350.15 268.26h.5M336.79 278.32h.5M345.35 269.05h.5M356.5 265.45h.5M344.93 274.16h.5M352.06 274.5h.5M333.32 281.68h.5M357.34 268.61h.5M347.81 269.43h.5M351.94 269.21h.5M349.51 268.63h.5M347.36 273.04h.5M340.04 281.33h.5M347.14 269.21h.5M348.25 273.46h.5M345.79 270.85h.5M346.22 269.48h.5M338.79 282.54h.5M366.09 269.17h.5M369.66 265.35h.5M341.89 274.72h.5M357.88 265.82h.5M347.24 273.53h.5M351.23 266.56h.5M350.99 273.13h.5M335.71 284.15h.5M354.77 266.43h.5M364.91 264.84h.5M356.06 273.86h.5M329.94 283.61h.5M360.44 270.9h.5M349.45 271.68h.5M343.53 274.58h.5M339.7 269.63h.5M343.91 272.02h.5M344.63 273.51h.5M346.35 274.45h.5M348.93 271.36h.5M345.01 274.51h.5M347.35 273.07h.5M361.11 266.42h.5M343.81 268.46h.5M334.22 270.86h.5M358.5 270.9h.5M346.13 272.61h.5M354.55 271.35h.5M336.05 279.16h.5M345.64 270.14h.5M362.14 267.58h.5M345.19 274.61h.5M344.93 273.17h.5M348.45 276.44h.5M349.32 270.75h.5M345.05 275.75h.5M340.75 271.74h.5M351.28 276.76h.5M344.91 275.48h.5M350.29 276.08h.5M351.79 266.56h.5M363.6 264.17h.5M342.09 274.82h.5M352.08 274.53h.5M346.68 271.34h.5M362.68 270.11h.5M347.42 273.96h.5M352.45 269.53h.5M344.41 278.84h.5M338.68 272.17h.5M356.28 272.39h.5M355.2 266.33h.5M346.43 270.27h.5M342.2 267.97h.5M345.26 279.52h.5M343.45 281.78h.5M348.4 266.11h.5M355.92 265.26h.5M354.05 269.05h.5M347 273.12h.5M338.56 275.97h.5M349.55 278.44h.5M346.01 275.45h.5M355.41 273.14h.5M348.51 273.58h.5M346.56 282.8h.5M338.75 279.4h.5M347.58 273.99h.5M345.25 273.2h.5M359.21 270.01h.5M369.02 257.04h.5M370.66 255.34h.5M376.11 256.34h.5M364.75 248.02h.5M364.56 253.69h.5M370.97 252.67h.5M371.22 254.44h.5M381.64 254.72h.5M363.66 250.53h.5M379.96 263.77h.5M366.19 261.77h.5M374.6 252.96h.5M371.4 272.38h.5M366.57 244.35h.5M368.92 257.38h.5M366.56 255.13h.5M378.71 235.54h.5M380.87 248.31h.5M372.43 258.43h.5M370.18 248.74h.5M374.22 263.85h.5M377.02 251.31h.5M355.98 260.15h.5M385.09 250.87h.5M374.82 254.48h.5M371.01 261.06h.5M380.22 250.67h.5M369.2 262.17h.5M367.12 260.61h.5M352.91 256.89h.5M365.77 265.29h.5M368.83 264.62h.5M368.82 262.07h.5M374.95 265.28h.5M368.31 259.91h.5M383.51 253.57h.5M371.51 270.54h.5M360.01 261.42h.5M370.91 266.55h.5M367.66 266.76h.5M371.52 253.14h.5M382.88 260.63h.5M374.5 242.11h.5M369.78 253.55h.5M366.99 256.01h.5M368.96 249.9h.5M364.16 266.19h.5M377.94 258.66h.5M369.57 248.92h.5M367.19 264.76h.5M375.29 257.42h.5M366.17 239.4h.5M369.87 263.29h.5M373.01 270.53h.5M372.86 259.54h.5M371.04 259.59h.5M375.11 255.76h.5M353.9 260.41h.5M373.85 260.2h.5M368.29 258.11h.5M379.12 251.23h.5M366.32 264.4h.5M369.61 258.61h.5M372.87 259.43h.5M372 258.11h.5M369.56 255.89h.5M368.82 261.97h.5M380.46 258.97h.5M379.91 236.28h.5M372.21 265.25h.5M368.92 260.32h.5M366.87 268.17h.5M367.84 270.98h.5M367.29 263.75h.5M371.41 246.68h.5M380.27 264.98h.5M363.89 267.53h.5M361.91 272.65h.5M364.08 254.22h.5M370.45 269.84h.5M367.96 247.79h.5M370.1 247.68h.5M368.3 264.07h.5M372.46 259.48h.5M372.9 246.69h.5M374.74 253.81h.5M365.78 271.72h.5M368.86 244.74h.5M373.56 262.57h.5M373.26 248.99h.5M367.75 257.51h.5M364.65 266.21h.5M374.33 236.48h.5M365.66 253.81h.5M370.12 240.11h.5M377.2 251.79h.5M364.5 262.04h.5M379.13 262.27h.5M377.69 258.87h.5M376.38 249.34h.5M370.34 256.31h.5M385.26 249.27h.5M372.28 247.39h.5M372.76 261.51h.5M362.86 253.49h.5M365.02 269.41h.5M377.01 253.05h.5M370.71 240.01h.5M361.79 270.36h.5M370.73 247.53h.5M373.31 256.11h.5M363.81 257.44h.5M368.27 258.97h.5M372.66 250.47h.5M360.09 260.25h.5M370.46 261.97h.5M364.09 261.91h.5M374.27 253.93h.5M383.26 243.51h.5M383.94 259.54h.5M352.15 264.71h.5M366.83 263.06h.5M379.67 250.56h.5M360.4 255.87h.5M370.78 253.33h.5M359.01 259.78h.5M372.31 250.83h.5M370.6 255.15h.5M363.77 260.94h.5M366.47 261.28h.5M369.44 264.23h.5M366.01 265.12h.5M373.55 258.16h.5M357.48 281.4h.5M369.42 252.97h.5M366 258.31h.5M376.66 278.21h.5M370.66 260.17h.5M361.18 264.36h.5M356.7 274.29h.5M364.73 263.73h.5M378.02 258.88h.5M363.96 253.25h.5M369.34 263h.5M366.43 235.34h.5M359.06 264.22h.5M371.2 260.75h.5M379.08 249.09h.5M373.12 244.58h.5M356.63 257.76h.5M368.07 265.55h.5M378.61 264.39h.5M362.12 256.39h.5M361.4 246.57h.5M374.47 252.71h.5M363.57 269.53h.5M375.6 260.31h.5M364.26 257.72h.5M367.6 257.2h.5M367.39 268.54h.5M369.6 248.11h.5M359.87 258.18h.5M362.3 258.82h.5M371.24 260.22h.5M371.23 243.46h.5M358.29 259.49h.5M371.55 260.78h.5M363.21 264.33h.5M355.73 260.28h.5M369.08 264.65h.5M357.23 254.44h.5M360.99 264.19h.5M372.07 239.23h.5M387.08 240.47h.5M378.91 251.73h.5M355.66 277.49h.5M371.63 257.8h.5M374.12 248.15h.5M366.08 265.45h.5M370.97 258.13h.5M365.43 260.99h.5M353.03 281.36h.5M373.97 250.4h.5M370.83 260.42h.5M365.54 259.27h.5M385.82 250.97h.5M356.17 268.84h.5M373.7 258.08h.5M359.47 264.5h.5M377.88 256.87h.5M362.19 263.49h.5M372.71 263.59h.5M373.24 255.42h.5M382.49 246.35h.5M377.39 262.12h.5M384.78 250.24h.5M380.78 244.98h.5M356.84 271.31h.5M370.13 255.76h.5M374.88 252.52h.5M382.63 244.69h.5M380.59 254.23h.5M374.99 244.39h.5M377.25 246.2h.5M367.89 278.17h.5M377.47 259.34h.5M367.57 267.16h.5M378.03 270.89h.5M377.56 245.3h.5M357.55 275.25h.5M371.04 254.45h.5M370.3 253.26h.5M375.36 253.76h.5M370.01 265.71h.5M372.02 252.42h.5M361.67 259.03h.5M371.81 249.54h.5M369.96 248.72h.5M354.53 257.83h.5M363.3 258.98h.5M377.26 250.43h.5M364.51 260.88h.5M368.77 257.89h.5M375.53 261.09h.5M362.84 269.07h.5M374.45 259.09h.5M365.55 254.86h.5M379.78 254.86h.5M371.25 266.49h.5M380.96 236h.5M360.79 243h.5M366.83 252.01h.5M371.4 252.78h.5M377.2 258.72h.5M379.69 253.12h.5M365.66 261.18h.5M367.86 255.69h.5M366.16 263.09h.5M371.62 252.46h.5M369.34 269.23h.5M375.53 267.63h.5M372.83 255.67h.5M377.07 247.99h.5M364.44 266.6h.5M361.34 273.1h.5M373.32 258.02h.5M379.41 263.35h.5M368.72 254.08h.5M385.62 234.89h.5M373.29 250.65h.5M368.13 259.03h.5M366.66 261.4h.5M366.16 256.94h.5M364.03 261.83h.5M358.8 275.89h.5M354.21 275.4h.5M365.85 255.55h.5M378.89 263.59h.5M367.78 254.42h.5M367.75 252.03h.5M355.82 268.22h.5M371.29 251.98h.5M375.56 255.49h.5M351.62 266.56h.5M358.15 259.35h.5M367.55 249.82h.5M369.61 270.71h.5M355.2 263.19h.5M375.68 248.68h.5M370.62 260.66h.5M363.96 261.01h.5M372.91 264.24h.5M361.59 253.34h.5M364.51 268.6h.5M354.23 262.85h.5M357.19 256.74h.5M380.16 262.88h.5M379.8 243.73h.5M377.66 247.37h.5M372.43 259.69h.5M367.21 255.31h.5M367.25 257h.5M376.11 258.41h.5M360.07 264.6h.5M371.01 271.74h.5M373.89 252.65h.5M368.64 267.89h.5M355.44 259.78h.5M371.34 267.19h.5M366.18 256.7h.5M370.16 265.13h.5M361.33 261.84h.5M374.78 255.57h.5M370.81 259.78h.5M361.09 247.67h.5M366.18 255.12h.5M368.22 258.14h.5M374.61 258.2h.5M360.68 262.33h.5M366.3 260.69h.5M361.32 269.15h.5M370.08 249.69h.5M363.22 273.35h.5M378.62 248.68h.5M382.79 250.06h.5M367.41 257.1h.5M384.97 242.34h.5M373.7 264.65h.5M363.23 261.7h.5M381.33 250.63h.5M371.7 264.08h.5M362.85 243.8h.5M373.26 261.52h.5M365.59 252.01h.5M370.94 249.35h.5M375.33 252.25h.5M371.61 246.52h.5M378.01 242.47h.5M365.83 257h.5M369.6 258.64h.5M371.14 261.7h.5M371.68 252.27h.5M370.25 258.51h.5M380.77 254.88h.5M368.29 266.51h.5M366.56 247.33h.5M379.93 259.67h.5M361.23 256.76h.5M358.44 273.31h.5M367.5 258.4h.5M367.93 246.96h.5M377.48 264.22h.5M374.29 243.77h.5M361.76 271.61h.5M372.27 255.44h.5M368.2 266.7h.5M359.66 259.8h.5M364.51 263.7h.5M363.06 253.61h.5M378 258.82h.5M363.4 271.24h.5M351.97 253.77h.5M364.69 252.11h.5M364.34 257.44h.5M350.05 274.88h.5M377.5 253.85h.5M365.86 269.88h.5M379.82 257.73h.5M388.3 248.31h.5M379.93 250.13h.5M363.71 252.7h.5M374.04 261.08h.5M371.07 248.24h.5M353.44 270.72h.5M361.48 271.08h.5M356.72 264.46h.5M366.17 258.53h.5M374.51 258.88h.5M377.72 259.75h.5M368.02 264.74h.5M386.85 236.81h.5M366.79 262.24h.5M366.99 257.4h.5M386.87 252.8h.5M363.56 257.65h.5M381.44 253.17h.5M374.62 259.7h.5M375.43 263.73h.5M371.71 258.05h.5M368.76 248.31h.5M372.58 256.02h.5M372.14 247.35h.5M356.21 269.81h.5M372.77 253.78h.5M379.48 259.1h.5M379.15 252.72h.5M366.61 251.63h.5M367.98 257.22h.5M365.56 264.46h.5M363.29 257.28h.5M355.22 259.11h.5M374.89 242.11h.5M354.28 253.65h.5M369.48 258.66h.5M367.27 251.59h.5M373.89 273.37h.5M369.3 261.27h.5M370.12 256.38h.5M380.03 247.88h.5M380.8 256.36h.5M374.37 250.94h.5M368.46 268.15h.5M362.33 252.23h.5M382.53 258.37h.5M376.99 250.74h.5M381.02 246.84h.5M365.46 265.46h.5M372.1 250.94h.5M359.22 259.08h.5M381.63 248.14h.5M372.17 268.15h.5M365.65 253.76h.5M368.92 265.16h.5M379.14 251.92h.5M355.68 251.26h.5M366.02 267.21h.5M357.99 260.49h.5M352.77 259.12h.5M366.62 239.15h.5M366.11 267.22h.5M378.18 256.23h.5M364.82 263.64h.5M375.54 240.31h.5M368.11 251.72h.5M356.4 266.41h.5M368.81 267.47h.5M385.3 258.41h.5M362.57 262.58h.5M369.57 251.17h.5M363.81 263.73h.5M371.38 247.63h.5M375.98 241.96h.5M379.46 252.47h.5M367.19 261.35h.5M370.43 242.86h.5M374.84 247.88h.5M380.28 254.31h.5M368.83 251.6h.5M364.72 252.56h.5M368.02 279.35h.5M353.31 254.54h.5M362.39 248.45h.5M379.91 259.66h.5M382.06 250.21h.5M363.43 256.6h.5M352.27 269.1h.5M364.48 256.86h.5M376.83 243.12h.5M373.11 262.86h.5M371.29 264.54h.5M368.57 250.34h.5M372.66 250.05h.5M370.61 263.04h.5M368.29 254.55h.5M382.65 254.87h.5M367.06 255.16h.5M369.2 259.84h.5M367.63 242.68h.5M380.89 245.96h.5M384.33 266.47h.5M386.85 253.63h.5M374.16 263.84h.5M358.57 267.66h.5M371.43 269.54h.5M365.49 248.86h.5M377.07 250.56h.5M389 263.58h.5M365.51 273.8h.5M368.4 263.28h.5M380.26 257.81h.5M378.03 252.58h.5M355.1 273.39h.5M369.38 254.46h.5M370.62 264.73h.5M368.11 254.85h.5M364.7 256.44h.5M363.27 260.49h.5M383.28 256.05h.5M368.67 250.56h.5M369.98 262.22h.5M370.99 264.36h.5M385.96 250.36h.5M367.54 263.25h.5M372.7 259.32h.5M365.56 265.1h.5M367.04 252.31h.5M373.6 258.07h.5M366.41 256.16h.5M372.93 256.4h.5M364.35 262.54h.5M365.19 253.95h.5M369.11 251.79h.5M369.32 270.29h.5M369.85 243.31h.5M362.28 257.03h.5M364.48 275.62h.5M371.68 263.91h.5M361.79 256.64h.5M371.43 249.78h.5M366.75 246.29h.5M385.72 252.11h.5M355.52 254.76h.5M357.93 270.89h.5M356.88 270.75h.5M367.99 253.29h.5M370.35 252.36h.5M365.01 263.57h.5M367.53 263.64h.5M374.73 266.39h.5M368.5 266.61h.5M374.14 256.07h.5M363.4 256.46h.5M355.25 268.64h.5M375.41 253.58h.5M368.17 246.38h.5M368.32 253.73h.5M364.99 272.91h.5M376.47 244.53h.5M373.76 249.77h.5M354.11 258.62h.5M379.46 255.79h.5M373.02 264.4h.5M370.42 248.71h.5M378.53 253.44h.5M364.41 260.64h.5M367.55 252.21h.5M364.36 266.95h.5M382.67 242.71h.5M364.21 259.24h.5M373.27 243.18h.5M361.74 261.85h.5M365.4 256.64h.5M369.21 258.75h.5M378.81 249.18h.5M358.48 269.84h.5M358.36 260.53h.5M363.19 257.52h.5M366.55 255.48h.5M375.73 246.09h.5M365.64 269.22h.5M367.41 263.87h.5M351.52 263.42h.5M355.38 266.26h.5M367.74 276.89h.5M374.18 243.28h.5M385.19 246.98h.5M362.57 263h.5M366.84 248.91h.5M367.7 248.48h.5M385.85 256.28h.5M376.98 259.4h.5M372.14 257.88h.5M364.88 264.63h.5M383.45 250.09h.5M360.99 264.46h.5M376.44 255.79h.5M362.82 252.89h.5M369.12 264.17h.5M371.69 247.82h.5M379.03 259.25h.5M358.88 260.24h.5M374.7 261.79h.5M370.32 259.07h.5M363.61 268.14h.5M358.84 272.98h.5M374.59 265.63h.5M366.32 246.96h.5M388.36 253.98h.5M371.73 257.05h.5M364.14 260.56h.5M370.9 260.87h.5M369.23 255.43h.5M376.71 276.04h.5M381.05 252.82h.5M363.31 259.25h.5M365.74 258.67h.5M366.53 244.28h.5M368.23 256.83h.5M371.17 260.81h.5M370.76 255.66h.5M359.57 246.78h.5M371.79 251.17h.5M370.13 253.1h.5M365.51 270.47h.5M367.79 262.84h.5M362.92 260.41h.5M367.82 244.03h.5M382.88 248.32h.5M374.14 258.13h.5M381.53 238.7h.5M355.77 267.58h.5M364.64 260.2h.5M361.86 267.4h.5M376.34 253.89h.5M363.49 251.24h.5M373.66 254.24h.5M372.26 252.92h.5M370.69 244.3h.5M372.71 261.18h.5M369.67 261.09h.5M360.29 271.19h.5M367.79 253.28h.5M360.79 251.05h.5M376.48 252.6h.5M368.97 267.04h.5M362.69 263.19h.5M373.1 235.01h.5M361.1 273.43h.5M381.73 263.11h.5M380.18 247.24h.5M359.35 263.9h.5M374.67 264.87h.5M367.38 262.73h.5M365.87 269.03h.5M379.83 241.62h.5M362.84 256.12h.5M365.33 256.42h.5M370.32 270.9h.5M370.7 259.17h.5M371.65 255.5h.5M368.06 256.32h.5M367.55 250.24h.5M364.63 263.83h.5M361.99 251.52h.5M361.2 258.69h.5M375.44 262.46h.5M366.26 266.66h.5M375.26 247.01h.5M367.24 250.04h.5M364.85 273.47h.5M378.73 262.42h.5M365.81 255.35h.5M383.58 256.58h.5M371.64 248.16h.5M374.47 257.23h.5M365.15 260.96h.5M379.46 248.68h.5M370.28 253.9h.5M370.75 254.77h.5M373.32 257.65h.5M366.63 263.72h.5M366.72 262.37h.5M361.27 268.14h.5M370.16 262.13h.5M360.45 254.78h.5M353.71 246.14h.5M371.11 266.61h.5M362.82 261.72h.5M366.35 265.63h.5M368.93 265.49h.5M364.97 249.85h.5M372.32 240.02h.5M371.88 261.53h.5M357.12 271.72h.5M376.87 254.74h.5M367.75 260.4h.5M369.75 242.25h.5M373.84 268.15h.5M372.96 257.7h.5M363.63 258.82h.5M369.84 271.03h.5M363.21 251.76h.5M369.94 250.35h.5M368.14 243.92h.5M364.78 261.04h.5M363.74 270.93h.5M372.37 249.91h.5M354.83 260.1h.5M371.77 252.08h.5M367.15 261.9h.5M363.13 249.09h.5M372.92 248.54h.5M368.68 256.6h.5M376.43 259.34h.5M362.57 264.45h.5M361.36 263.95h.5M367.87 257.28h.5M369.08 255.42h.5M377.51 247.48h.5M378.61 244.9h.5M369.68 266.64h.5M371.98 245.35h.5M367.06 254.06h.5M367.8 265.03h.5M376.28 259.2h.5M370.51 264.15h.5M376.81 248.83h.5M369.94 262.68h.5M369.01 245.94h.5M380.96 262.37h.5M368.9 255.05h.5M372.73 255.12h.5M373.11 244.03h.5M360.85 265.4h.5M375.12 247.57h.5M374.17 252.66h.5M376.98 261.39h.5M375.91 263.36h.5M380.88 247.03h.5M374.31 255.47h.5M369.22 256.35h.5M379.59 251.99h.5M369.95 256.58h.5M379.72 254.15h.5M375.7 266.59h.5M371.81 262h.5M368.35 257.27h.5M369.6 252.38h.5M358.51 250.18h.5M367.03 247.7h.5M376.28 254.4h.5M379.39 259.31h.5M372.29 253.4h.5M359.93 254.69h.5M367.38 245.08h.5M368.59 248.19h.5M365.89 271.72h.5M371.09 256.89h.5M378.06 267.77h.5M368.67 263.09h.5M380.4 258.77h.5M372.26 259.67h.5M359.29 253.2h.5M375.34 266.59h.5M361.43 256.41h.5M372.61 246.2h.5M370.73 256.09h.5M360.66 253.48h.5M383.29 252.67h.5M373.06 256.2h.5M374.29 264.51h.5M353.9 253.45h.5M370.28 258.29h.5M373.08 257.91h.5M367.83 249.93h.5M366.68 265.81h.5M369.59 253.49h.5M368.78 262.01h.5M380.91 265h.5M375.58 254.8h.5M369.48 240.6h.5M362.6 255.08h.5M361.43 266.4h.5M380.4 243.36h.5M351.83 261.87h.5M366.45 265.36h.5M367.34 242.92h.5M365.73 248.5h.5M376.9 251.64h.5M363.93 251.64h.5M355.94 261.65h.5M374.73 262.53h.5M369.1 237.77h.5M369.22 255.75h.5M357.97 259.5h.5M365.23 243.34h.5M364.28 263.83h.5M382.34 251.78h.5M359.01 248.84h.5M369.49 262.5h.5M371.49 267.02h.5M369.24 257.16h.5M366.42 263.73h.5M361.05 261.59h.5M371.71 253.48h.5M374.77 235.71h.5M360.68 256.66h.5M374.48 273.76h.5M358.87 271.09h.5M365.4 257.66h.5M364.48 263.07h.5M368.33 260.73h.5M366.26 263h.5M377.91 264.65h.5M371.81 263.72h.5M373.13 256.36h.5M370.23 254.84h.5M364.78 258.28h.5M357.93 264.8h.5M358.14 261.54h.5M355.16 270.26h.5M366.54 262.79h.5M376.02 269.49h.5M359.22 252.17h.5M358.84 256.32h.5M377.17 268.45h.5M367.47 246.98h.5M376.05 245.56h.5M384.97 256.58h.5M355.24 254.01h.5M368 258.54h.5M372.48 265.89h.5M371.05 256.71h.5M371.89 250.92h.5M364.04 256.93h.5M380.09 261.1h.5M375.74 261.82h.5M365.97 263.31h.5M364.31 237.76h.5M362.52 259.16h.5M380.78 250.36h.5M375.19 237.4h.5M379.88 250.17h.5M375.16 256.64h.5M361.93 248.52h.5M377.8 259.73h.5M363.38 260.77h.5M372.75 244.65h.5M371.39 255.99h.5M362.66 259.23h.5M357.13 262.31h.5M361.28 265.77h.5M373.38 244.84h.5M364.26 268.34h.5M374.62 249.57h.5M364.54 250.26h.5M380.17 251.9h.5M384.75 256.07h.5M366.81 246.97h.5M370.12 254.99h.5M360.52 244.5h.5M372.84 262.31h.5M379.58 250.1h.5M377.26 248.87h.5M360.2 264.99h.5M352.91 248.63h.5M354.94 254.8h.5M377.36 253.26h.5M350.26 255.58h.5M376.71 267.98h.5M354.33 265.95h.5M369.15 263.27h.5M367.94 247.34h.5M359.37 257.28h.5M366.91 250.95h.5M382.61 248.43h.5M366.33 257.56h.5M377.46 241.16h.5M363.38 260.93h.5M359.78 249.78h.5M367.65 247.87h.5M359.86 242.83h.5M362.46 254.7h.5M374.51 256.63h.5M353.35 268.44h.5M378.82 254.16h.5M368.12 250.14h.5M364.36 269.43h.5M368.98 257.74h.5M369.64 259.15h.5M372.01 249.38h.5M369.04 253h.5M369.94 267.91h.5M376.48 255.68h.5M368.53 258.45h.5M374.39 274.63h.5M367.74 259.82h.5M363.01 255.71h.5M361.29 270.91h.5M372.15 257.59h.5M369.27 265.6h.5M363.56 263.5h.5M370.18 244.18h.5M362.81 248.21h.5M368.94 265.52h.5M366.22 264.25h.5M364.99 252.89h.5M368.18 260.87h.5M375.12 259.8h.5M369.36 251.44h.5M360.51 257.58h.5M370.43 255.49h.5M371.8 266.98h.5M372.93 256.3h.5M375.09 260.54h.5M380.61 250.43h.5M363.48 271.2h.5M361.09 241.82h.5M383.4 252.11h.5M364.76 264.77h.5M368.33 256.04h.5M373.95 268.2h.5M379.07 247.36h.5M368.19 257.59h.5M374.83 253.86h.5M353.63 256.07h.5M367.66 255.89h.5M360.31 258.98h.5M365.84 263.42h.5M366.85 247.26h.5M371.49 252.59h.5M369.38 260.99h.5M372.33 258.96h.5M362.78 256.98h.5M364.79 248.37h.5M375.72 256.99h.5M365.9 246.01h.5M383.83 243.97h.5M362.78 274.74h.5M357.91 260.68h.5M370.34 260.85h.5M363.86 252.89h.5M364.02 266.83h.5M369.66 253.1h.5M360.27 245.79h.5M372.57 256.03h.5M371.32 238.36h.5M356.24 259.63h.5M376.24 251.34h.5M370.82 253.13h.5M367.93 260.98h.5M368.98 257.64h.5M367.18 253.06h.5M371.47 252.28h.5M364.11 262.3h.5M369.86 259.97h.5M386.36 239.76h.5M364.85 258.02h.5M372.63 251.64h.5M361.97 258.69h.5M375.06 260.1h.5M376.39 253.45h.5M375.37 251.97h.5M381.82 253.99h.5M370.96 258.98h.5M369.18 241.12h.5M367.67 259.55h.5M358.02 276.97h.5M367.02 257.84h.5M385.89 260.34h.5M363.52 264.71h.5M360.62 262.87h.5M361.64 258.83h.5M374.69 251.45h.5M370.63 269.43h.5M370.53 276.22h.5M378.07 256.68h.5M374.15 246.46h.5M374.99 250.89h.5M370.2 252.2h.5M378.22 266.41h.5M366.17 252.45h.5M361.09 255.49h.5M369.02 255.08h.5M381.59 248.63h.5M368.18 249.29h.5M367.53 256.97h.5M369.28 261.79h.5M376.74 259.01h.5M368.79 254.37h.5M365.53 255.49h.5M359.66 258.31h.5M368.31 259.09h.5M366.48 271.77h.5M379.68 258.88h.5M368.31 250.44h.5M374.82 254.11h.5M360.64 255.19h.5M364.97 258.45h.5M370.25 268.02h.5M362.36 256.91h.5M369.89 258.59h.5M376.8 258.7h.5M370.87 261.05h.5M369.64 249.3h.5M374.24 259.57h.5M370.54 250.25h.5M356.14 269.3h.5M342.31 273.21h.5M353.26 275.61h.5M347.6 276.92h.5M353.36 272.46h.5M358.03 273.67h.5M346.1 280.15h.5M362.68 267.23h.5M346.91 278.77h.5M346.52 267.6h.5M355.33 269.5h.5M339.4 279.99h.5M355.76 276.21h.5M353.49 267.34h.5M352.9 274.93h.5M344.68 272.08h.5M348.42 270.75h.5M348.5 278.17h.5M342.96 273.01h.5M347.03 268.53h.5M349.39 271.45h.5M342.43 277.29h.5M340.79 282.68h.5M345.08 272.23h.5M344.14 274.35h.5M353.07 270.62h.5M351.28 273.01h.5M352.62 273.86h.5M357.84 269.38h.5M356.69 277.72h.5M345.1 274.77h.5M339.18 283.97h.5M356.95 267.32h.5M354.37 265.46h.5M360.84 258.97h.5M344.96 274.71h.5M348.37 276.55h.5M345.19 268.15h.5M347.78 269.7h.5M346.55 279.05h.5M346.61 273.03h.5M353.01 261.97h.5M353.99 273.7h.5M339.52 280.86h.5M352.46 266.27h.5M351.67 280.81h.5M349.54 271.38h.5M356.16 266.95h.5M343.97 272.74h.5M333.61 284.5h.5M346.97 269.15h.5M358.55 276.75h.5M356.2 260.59h.5M357.74 273.54h.5M356.76 268.55h.5M355.66 266.21h.5M343.71 271.44h.5M337.02 280.56h.5M337.42 273.55h.5M350.48 274.35h.5M350.24 271.5h.5M354.15 274.6h.5M349.18 271.58h.5M349.91 278.27h.5M354.39 268.47h.5M354.51 274.29h.5M351.7 275.56h.5M353.88 269.15h.5M350.55 272.43h.5M346.09 275.13h.5M348.24 266.76h.5M335.21 278.13h.5M343.34 275.35h.5M340.4 272.42h.5M347.72 264.17h.5M352.01 273.32h.5M348.86 274.23h.5M338.7 280.05h.5M348.86 271.88h.5M353.87 268.3h.5M368.31 273.04h.5M363.58 280.47h.5M364.53 276.5h.5M369.58 280.69h.5M363.98 271.65h.5M369.05 275.95h.5M366.72 293.59h.5M364.23 271.48h.5M366.13 274.82h.5M367.62 276.09h.5M359.15 282.2h.5M360.24 272.77h.5M367.27 267.82h.5M371.99 279.21h.5M371.93 278.43h.5M359.24 278.46h.5M359.08 273.7h.5M366.98 281.18h.5M364.71 277.3h.5M358.8 266.71h.5M365.98 271.94h.5M358.59 269.41h.5M362.03 274.5h.5M363.78 274.81h.5M358.96 272.06h.5M367.99 284.91h.5M371.25 271.13h.5M368.89 277.56h.5M361.76 275.93h.5M358.39 262.92h.5M366.78 285.47h.5M361.98 268.61h.5M372.73 273.2h.5M359.88 286.31h.5M361.4 279.05h.5M367.28 262.59h.5M374.19 272.33h.5M363.56 279.47h.5M370.56 283.01h.5M359.63 274.81h.5M360.75 274.69h.5M361.58 269.38h.5M371.5 271.16h.5M360.28 271.33h.5M365.03 281.62h.5M364.65 278h.5M361.82 288.04h.5M363.52 280.9h.5M367.03 278.97h.5M363.24 274.2h.5M372.36 280.75h.5M359.12 273.54h.5M363.29 280.38h.5M365.96 278.45h.5M362.07 271.83h.5M357.98 290.19h.5M365.16 279.29h.5M367.07 264.75h.5M366.1 278.39h.5M365.75 277.02h.5" stroke="#000" stroke-width="0.55" fill="none"/>
<path d="M289.3 219V319H389.6V219" fill="none" stroke="#555" stroke-width="0.8"/>
<path d="M289.3 219H389.6" fill="none" stroke="#aaa" stroke-width="0.8"/>
<path d="M358 219V319M289.3 261.2H389.6" stroke="#333" stroke-width="1"/>
<text x="341.2" y="211.2" text-anchor="middle" style="font-family:'Liberation Serif',serif;stroke:#000;stroke-width:0.1px;font-size:10.2px">20 μM</text>
<text x="290.7" y="226.9" style="font-family:'Liberation Sans',sans-serif;font-size:4.5px;fill:#222">Q1</text><text x="290.7" y="233" style="font-family:'Liberation Sans',sans-serif;font-size:4.5px;fill:#222">0.14</text>
<text x="380.3" y="226.9" text-anchor="end" style="font-family:'Liberation Sans',sans-serif;font-size:4.5px;fill:#222">Q2</text><text x="380.3" y="233" text-anchor="end" style="font-family:'Liberation Sans',sans-serif;font-size:4.5px;fill:#222">29.8</text>
<text x="290.7" y="308.3" style="font-family:'Liberation Sans',sans-serif;font-size:4.5px;fill:#222">Q4</text><text x="290.7" y="314" style="font-family:'Liberation Sans',sans-serif;font-size:4.5px;fill:#222">43.2</text>
<text x="380.3" y="308.3" text-anchor="end" style="font-family:'Liberation Sans',sans-serif;font-size:4.5px;fill:#222">Q3</text><text x="380.3" y="314" text-anchor="end" style="font-family:'Liberation Sans',sans-serif;font-size:4.5px;fill:#222">26.8</text>
<path d="M342 275.6L345 272.6L352 268.6L358.8 264.8L362.8 256L366.8 249L371 246.4L376.8 245.4L379.3 247.2L375.8 256.5L372 265L367.8 270.8L362 272.4L355 274.6L347.5 278L343.8 278.4Z" fill="#000"/>
<path d="M429.8 216V322.6H547.8" fill="none" stroke="#000" stroke-width="1.4"/>
<path d="M425.8 322.6H429.8M425.8 296.1H429.8M425.8 269.6H429.8M425.8 243.1H429.8M425.8 216.6H429.8M453.2 322.6V325.8M488.1 322.6V325.8M522.8 322.6V325.8" stroke="#000" stroke-width="1.2"/>
<text x="423" y="325.8" text-anchor="end" style="font-family:'Liberation Serif',serif;stroke:#000;stroke-width:0.1px;font-size:9.7px">0</text>
<text x="423" y="299.3" text-anchor="end" style="font-family:'Liberation Serif',serif;stroke:#000;stroke-width:0.1px;font-size:9.7px">20</text>
<text x="423" y="272.8" text-anchor="end" style="font-family:'Liberation Serif',serif;stroke:#000;stroke-width:0.1px;font-size:9.7px">40</text>
<text x="423" y="246.3" text-anchor="end" style="font-family:'Liberation Serif',serif;stroke:#000;stroke-width:0.1px;font-size:9.7px">60</text>
<text x="423" y="219.8" text-anchor="end" style="font-family:'Liberation Serif',serif;stroke:#000;stroke-width:0.1px;font-size:9.7px">80</text>
<text x="453.2" y="337.8" text-anchor="middle" style="font-family:'Liberation Serif',serif;stroke:#000;stroke-width:0.1px;font-size:9.7px">0</text>
<text x="488.1" y="337.8" text-anchor="middle" style="font-family:'Liberation Serif',serif;stroke:#000;stroke-width:0.1px;font-size:9.7px">10</text>
<text x="522.8" y="337.8" text-anchor="middle" style="font-family:'Liberation Serif',serif;stroke:#000;stroke-width:0.1px;font-size:9.7px">20</text>
<text x="492" y="349" text-anchor="middle" style="font-family:'Liberation Serif',serif;stroke:#000;stroke-width:0.1px;font-size:11px">CT (μM)</text>
<text transform="translate(406.4 259.6) rotate(-90)" text-anchor="middle" style="font-family:'Liberation Serif',serif;stroke:#000;stroke-width:0.1px;font-size:10.9px">Apoptosis Rate (%)</text>
<path d="M453.15 320.48V319.16M446.95 319.16H459.35" stroke="#000" stroke-width="1.5"/>
<rect x="442.7" y="321.28" width="20.9" height="1.32" fill="#c4c4c4" stroke="#000" stroke-width="1.6"/>
<path d="M488.1 311.87V307.63M481.8 307.63H494.4" stroke="#000" stroke-width="1.5"/>
<rect x="477.5" y="312.67" width="21.2" height="9.93" fill="#a8a8a8" stroke="#000" stroke-width="1.6"/>
<path d="M522.8 251.05V245.75M516.5 245.75H529.1" stroke="#000" stroke-width="1.5"/>
<rect x="512.1" y="251.85" width="21.4" height="70.75" fill="#5a5a5a" stroke="#000" stroke-width="1.6"/>
<text x="487.8" y="305.6" text-anchor="middle" style="font-family:'Liberation Serif',serif;stroke:#000;stroke-width:0.1px;font-size:10.4px;letter-spacing:-0.2px">***</text>
<text x="523" y="242.6" text-anchor="middle" style="font-family:'Liberation Serif',serif;stroke:#000;stroke-width:0.1px;font-size:10.4px;letter-spacing:-0.2px">***</text>
</svg>
</body></html>
